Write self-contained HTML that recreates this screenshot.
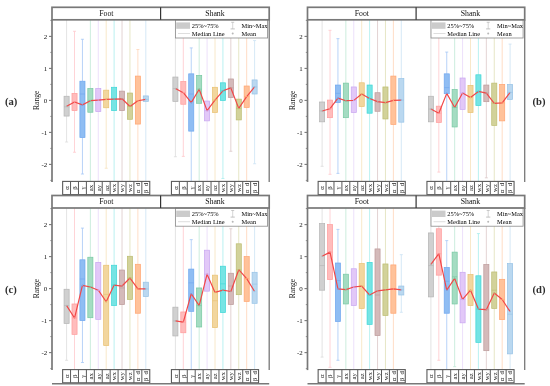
<!DOCTYPE html>
<html><head><meta charset="utf-8"><title>Range box plots</title>
<style>html,body{margin:0;padding:0;background:#fff;}svg{display:block;}</style>
</head><body>
<svg width="550" height="386" viewBox="0 0 550 386">
<rect width="550" height="386" fill="#fff"/>
<g transform="translate(0,0)">
<clipPath id="clipa"><rect x="52" y="19.8" width="217.2" height="161.5"/></clipPath>
<g clip-path="url(#clipa)">
<line x1="66.6" y1="17.8" x2="66.6" y2="96.24" stroke="#dcdcdc" stroke-width="0.8"/>
<line x1="66.6" y1="116.08" x2="66.6" y2="142" stroke="#dcdcdc" stroke-width="0.8"/>
<line x1="65.1" y1="142" x2="68.1" y2="142" stroke="#dcdcdc" stroke-width="0.8"/>
<rect x="64.05" y="96.24" width="5.1" height="19.84" fill="#d0d0d0" stroke="#b4b4b4" stroke-width="0.7"/>
<line x1="64.05" y1="106.8" x2="69.15" y2="106.8" stroke="#b4b4b4" stroke-width="0.6"/>
<line x1="74.52" y1="31.28" x2="74.52" y2="93.36" stroke="#ffc8cc" stroke-width="0.8"/>
<line x1="74.52" y1="110.64" x2="74.52" y2="152.24" stroke="#ffc8cc" stroke-width="0.8"/>
<line x1="73.02" y1="31.28" x2="76.02" y2="31.28" stroke="#ffc8cc" stroke-width="0.8"/>
<line x1="73.02" y1="152.24" x2="76.02" y2="152.24" stroke="#ffc8cc" stroke-width="0.8"/>
<rect x="71.97" y="93.36" width="5.1" height="17.28" fill="#ffbcbc" stroke="#ff9c9c" stroke-width="0.7"/>
<line x1="71.97" y1="102" x2="77.07" y2="102" stroke="#ff9c9c" stroke-width="0.6"/>
<line x1="82.44" y1="39.28" x2="82.44" y2="81.2" stroke="#a6c8f6" stroke-width="0.8"/>
<line x1="82.44" y1="137.52" x2="82.44" y2="174" stroke="#a6c8f6" stroke-width="0.8"/>
<line x1="80.94" y1="39.28" x2="83.94" y2="39.28" stroke="#a6c8f6" stroke-width="0.8"/>
<line x1="80.94" y1="174" x2="83.94" y2="174" stroke="#a6c8f6" stroke-width="0.8"/>
<rect x="79.89" y="81.2" width="5.1" height="56.32" fill="#8fbdf3" stroke="#6ea6ee" stroke-width="0.7"/>
<line x1="79.89" y1="94" x2="84.99" y2="94" stroke="#6ea6ee" stroke-width="0.6"/>
<line x1="90.36" y1="17.8" x2="90.36" y2="88.56" stroke="#bfe8d6" stroke-width="0.8"/>
<line x1="90.36" y1="112.24" x2="90.36" y2="183.3" stroke="#bfe8d6" stroke-width="0.8"/>
<rect x="87.81" y="88.56" width="5.1" height="23.68" fill="#a4dcc2" stroke="#76c8a2" stroke-width="0.7"/>
<line x1="87.81" y1="100.4" x2="92.91" y2="100.4" stroke="#76c8a2" stroke-width="0.6"/>
<line x1="98.28" y1="17.8" x2="98.28" y2="88.56" stroke="#e8d8fa" stroke-width="0.8"/>
<line x1="98.28" y1="111.6" x2="98.28" y2="183.3" stroke="#e8d8fa" stroke-width="0.8"/>
<rect x="95.73" y="88.56" width="5.1" height="23.04" fill="#e2c8f8" stroke="#c8a6f0" stroke-width="0.7"/>
<line x1="95.73" y1="100.4" x2="100.83" y2="100.4" stroke="#c8a6f0" stroke-width="0.6"/>
<line x1="106.2" y1="17.8" x2="106.2" y2="90.16" stroke="#f6e2bc" stroke-width="0.8"/>
<line x1="106.2" y1="107.76" x2="106.2" y2="168.24" stroke="#f6e2bc" stroke-width="0.8"/>
<line x1="104.7" y1="168.24" x2="107.7" y2="168.24" stroke="#f6e2bc" stroke-width="0.8"/>
<rect x="103.65" y="90.16" width="5.1" height="17.6" fill="#f2d69e" stroke="#e8c070" stroke-width="0.7"/>
<line x1="103.65" y1="99.44" x2="108.75" y2="99.44" stroke="#e8c070" stroke-width="0.6"/>
<line x1="114.12" y1="17.8" x2="114.12" y2="87.28" stroke="#a8eeee" stroke-width="0.8"/>
<line x1="114.12" y1="110.64" x2="114.12" y2="183.3" stroke="#a8eeee" stroke-width="0.8"/>
<rect x="111.57" y="87.28" width="5.1" height="23.36" fill="#76e4e4" stroke="#3cd6d6" stroke-width="0.7"/>
<line x1="111.57" y1="99.12" x2="116.67" y2="99.12" stroke="#3cd6d6" stroke-width="0.6"/>
<line x1="122.04" y1="17.8" x2="122.04" y2="91.12" stroke="#dcc8c8" stroke-width="0.8"/>
<line x1="122.04" y1="110.64" x2="122.04" y2="183.3" stroke="#dcc8c8" stroke-width="0.8"/>
<rect x="119.49" y="91.12" width="5.1" height="19.52" fill="#d4baba" stroke="#bc9a9a" stroke-width="0.7"/>
<line x1="119.49" y1="98.8" x2="124.59" y2="98.8" stroke="#bc9a9a" stroke-width="0.6"/>
<line x1="129.96" y1="17.8" x2="129.96" y2="93.04" stroke="#e0e0b8" stroke-width="0.8"/>
<line x1="129.96" y1="119.28" x2="129.96" y2="183.3" stroke="#e0e0b8" stroke-width="0.8"/>
<rect x="127.41" y="93.04" width="5.1" height="26.24" fill="#d2d29a" stroke="#bcbc70" stroke-width="0.7"/>
<line x1="127.41" y1="106.48" x2="132.51" y2="106.48" stroke="#bcbc70" stroke-width="0.6"/>
<line x1="137.88" y1="49.52" x2="137.88" y2="76.08" stroke="#ffd4b8" stroke-width="0.8"/>
<line x1="137.88" y1="124.08" x2="137.88" y2="183.3" stroke="#ffd4b8" stroke-width="0.8"/>
<line x1="136.38" y1="49.52" x2="139.38" y2="49.52" stroke="#ffd4b8" stroke-width="0.8"/>
<rect x="135.33" y="76.08" width="5.1" height="48" fill="#ffc29a" stroke="#ffa470" stroke-width="0.7"/>
<line x1="135.33" y1="100.72" x2="140.43" y2="100.72" stroke="#ffa470" stroke-width="0.6"/>
<line x1="145.8" y1="17.8" x2="145.8" y2="95.92" stroke="#cce2f4" stroke-width="0.8"/>
<line x1="145.8" y1="101.36" x2="145.8" y2="183.3" stroke="#cce2f4" stroke-width="0.8"/>
<rect x="143.25" y="95.92" width="5.1" height="5.44" fill="#bad8f0" stroke="#96c2e6" stroke-width="0.7"/>
<line x1="143.25" y1="99.44" x2="148.35" y2="99.44" stroke="#96c2e6" stroke-width="0.6"/>
<polyline points="66.6,106.16 74.52,102 82.44,104.88 90.36,100.72 98.28,100.08 106.2,99.44 114.12,99.12 122.04,98.8 129.96,106.48 137.88,100.72 145.8,99.44" fill="none" stroke="#f24848" stroke-width="1.2" stroke-linejoin="round"/>
<circle cx="66.6" cy="106.16" r="0.75" fill="#b4b4b4"/>
<circle cx="74.52" cy="102" r="0.75" fill="#ff9c9c"/>
<circle cx="82.44" cy="104.88" r="0.75" fill="#6ea6ee"/>
<circle cx="90.36" cy="100.72" r="0.75" fill="#76c8a2"/>
<circle cx="98.28" cy="100.08" r="0.75" fill="#c8a6f0"/>
<circle cx="106.2" cy="99.44" r="0.75" fill="#e8c070"/>
<circle cx="114.12" cy="99.12" r="0.75" fill="#3cd6d6"/>
<circle cx="122.04" cy="98.8" r="0.75" fill="#bc9a9a"/>
<circle cx="129.96" cy="106.48" r="0.75" fill="#bcbc70"/>
<circle cx="137.88" cy="100.72" r="0.75" fill="#ffa470"/>
<circle cx="145.8" cy="99.44" r="0.75" fill="#96c2e6"/>
<line x1="175.4" y1="17.8" x2="175.4" y2="77.04" stroke="#dcdcdc" stroke-width="0.8"/>
<line x1="175.4" y1="101.36" x2="175.4" y2="156.72" stroke="#dcdcdc" stroke-width="0.8"/>
<line x1="173.9" y1="156.72" x2="176.9" y2="156.72" stroke="#dcdcdc" stroke-width="0.8"/>
<rect x="172.85" y="77.04" width="5.1" height="24.32" fill="#d0d0d0" stroke="#b4b4b4" stroke-width="0.7"/>
<line x1="172.85" y1="88.56" x2="177.95" y2="88.56" stroke="#b4b4b4" stroke-width="0.6"/>
<line x1="183.32" y1="17.8" x2="183.32" y2="81.52" stroke="#ffc8cc" stroke-width="0.8"/>
<line x1="183.32" y1="104.24" x2="183.32" y2="156.4" stroke="#ffc8cc" stroke-width="0.8"/>
<line x1="181.82" y1="156.4" x2="184.82" y2="156.4" stroke="#ffc8cc" stroke-width="0.8"/>
<rect x="180.77" y="81.52" width="5.1" height="22.72" fill="#ffbcbc" stroke="#ff9c9c" stroke-width="0.7"/>
<line x1="180.77" y1="92.72" x2="185.87" y2="92.72" stroke="#ff9c9c" stroke-width="0.6"/>
<line x1="191.24" y1="47.92" x2="191.24" y2="73.84" stroke="#a6c8f6" stroke-width="0.8"/>
<line x1="191.24" y1="131.12" x2="191.24" y2="183.3" stroke="#a6c8f6" stroke-width="0.8"/>
<line x1="189.74" y1="47.92" x2="192.74" y2="47.92" stroke="#a6c8f6" stroke-width="0.8"/>
<rect x="188.69" y="73.84" width="5.1" height="57.28" fill="#8fbdf3" stroke="#6ea6ee" stroke-width="0.7"/>
<line x1="188.69" y1="94" x2="193.79" y2="94" stroke="#6ea6ee" stroke-width="0.6"/>
<line x1="199.16" y1="17.8" x2="199.16" y2="75.44" stroke="#bfe8d6" stroke-width="0.8"/>
<line x1="199.16" y1="103.28" x2="199.16" y2="183.3" stroke="#bfe8d6" stroke-width="0.8"/>
<rect x="196.61" y="75.44" width="5.1" height="27.84" fill="#a4dcc2" stroke="#76c8a2" stroke-width="0.7"/>
<line x1="196.61" y1="89.2" x2="201.71" y2="89.2" stroke="#76c8a2" stroke-width="0.6"/>
<line x1="207.08" y1="17.8" x2="207.08" y2="101.04" stroke="#e8d8fa" stroke-width="0.8"/>
<line x1="207.08" y1="120.88" x2="207.08" y2="183.3" stroke="#e8d8fa" stroke-width="0.8"/>
<rect x="204.53" y="101.04" width="5.1" height="19.84" fill="#e2c8f8" stroke="#c8a6f0" stroke-width="0.7"/>
<line x1="204.53" y1="110.64" x2="209.63" y2="110.64" stroke="#c8a6f0" stroke-width="0.6"/>
<line x1="215" y1="17.8" x2="215" y2="87.28" stroke="#f6e2bc" stroke-width="0.8"/>
<line x1="215" y1="112.56" x2="215" y2="183.3" stroke="#f6e2bc" stroke-width="0.8"/>
<rect x="212.45" y="87.28" width="5.1" height="25.28" fill="#f2d69e" stroke="#e8c070" stroke-width="0.7"/>
<line x1="212.45" y1="100.08" x2="217.55" y2="100.08" stroke="#e8c070" stroke-width="0.6"/>
<line x1="222.92" y1="17.8" x2="222.92" y2="82.8" stroke="#a8eeee" stroke-width="0.8"/>
<line x1="222.92" y1="100.4" x2="222.92" y2="178.48" stroke="#a8eeee" stroke-width="0.8"/>
<line x1="221.42" y1="178.48" x2="224.42" y2="178.48" stroke="#a8eeee" stroke-width="0.8"/>
<rect x="220.37" y="82.8" width="5.1" height="17.6" fill="#76e4e4" stroke="#3cd6d6" stroke-width="0.7"/>
<line x1="220.37" y1="90.8" x2="225.47" y2="90.8" stroke="#3cd6d6" stroke-width="0.6"/>
<line x1="230.84" y1="17.8" x2="230.84" y2="78.96" stroke="#dcc8c8" stroke-width="0.8"/>
<line x1="230.84" y1="97.52" x2="230.84" y2="151.28" stroke="#dcc8c8" stroke-width="0.8"/>
<line x1="229.34" y1="151.28" x2="232.34" y2="151.28" stroke="#dcc8c8" stroke-width="0.8"/>
<rect x="228.29" y="78.96" width="5.1" height="18.56" fill="#d4baba" stroke="#bc9a9a" stroke-width="0.7"/>
<line x1="228.29" y1="87.92" x2="233.39" y2="87.92" stroke="#bc9a9a" stroke-width="0.6"/>
<line x1="238.76" y1="17.8" x2="238.76" y2="99.12" stroke="#e0e0b8" stroke-width="0.8"/>
<line x1="238.76" y1="119.92" x2="238.76" y2="183.3" stroke="#e0e0b8" stroke-width="0.8"/>
<rect x="236.21" y="99.12" width="5.1" height="20.8" fill="#d2d29a" stroke="#bcbc70" stroke-width="0.7"/>
<line x1="236.21" y1="108.4" x2="241.31" y2="108.4" stroke="#bcbc70" stroke-width="0.6"/>
<line x1="246.68" y1="17.8" x2="246.68" y2="86" stroke="#ffd4b8" stroke-width="0.8"/>
<line x1="246.68" y1="107.44" x2="246.68" y2="183.3" stroke="#ffd4b8" stroke-width="0.8"/>
<rect x="244.13" y="86" width="5.1" height="21.44" fill="#ffc29a" stroke="#ffa470" stroke-width="0.7"/>
<line x1="244.13" y1="96.56" x2="249.23" y2="96.56" stroke="#ffa470" stroke-width="0.6"/>
<line x1="254.6" y1="40.56" x2="254.6" y2="79.92" stroke="#cce2f4" stroke-width="0.8"/>
<line x1="254.6" y1="94" x2="254.6" y2="163.76" stroke="#cce2f4" stroke-width="0.8"/>
<line x1="253.1" y1="40.56" x2="256.1" y2="40.56" stroke="#cce2f4" stroke-width="0.8"/>
<line x1="253.1" y1="163.76" x2="256.1" y2="163.76" stroke="#cce2f4" stroke-width="0.8"/>
<rect x="252.05" y="79.92" width="5.1" height="14.08" fill="#bad8f0" stroke="#96c2e6" stroke-width="0.7"/>
<line x1="252.05" y1="86.96" x2="257.15" y2="86.96" stroke="#96c2e6" stroke-width="0.6"/>
<polyline points="175.4,88.56 183.32,92.72 191.24,102.64 199.16,89.2 207.08,110.64 215,100.08 222.92,90.8 230.84,87.92 238.76,108.4 246.68,96.56 254.6,86.96" fill="none" stroke="#f24848" stroke-width="1.2" stroke-linejoin="round"/>
<circle cx="175.4" cy="88.56" r="0.75" fill="#b4b4b4"/>
<circle cx="183.32" cy="92.72" r="0.75" fill="#ff9c9c"/>
<circle cx="191.24" cy="102.64" r="0.75" fill="#6ea6ee"/>
<circle cx="199.16" cy="89.2" r="0.75" fill="#76c8a2"/>
<circle cx="207.08" cy="110.64" r="0.75" fill="#c8a6f0"/>
<circle cx="215" cy="100.08" r="0.75" fill="#e8c070"/>
<circle cx="222.92" cy="90.8" r="0.75" fill="#3cd6d6"/>
<circle cx="230.84" cy="87.92" r="0.75" fill="#bc9a9a"/>
<circle cx="238.76" cy="108.4" r="0.75" fill="#bcbc70"/>
<circle cx="246.68" cy="96.56" r="0.75" fill="#ffa470"/>
<circle cx="254.6" cy="86.96" r="0.75" fill="#96c2e6"/>
</g>
<clipPath id="lca"><rect x="175.5" y="19.8" width="92.1" height="18.2"/></clipPath>
<rect x="175.5" y="19.8" width="92.1" height="18.2" fill="#fff" stroke="#8a8a8a" stroke-width="0.8"/>
<g clip-path="url(#lca)" font-family="'Liberation Serif', 'Times New Roman', serif" font-size="6.4" fill="#000">
<rect x="176.2" y="22.4" width="13.8" height="6.4" fill="#cbcbcb"/>
<line x1="178" y1="33.5" x2="190" y2="33.5" stroke="#c8c8c8" stroke-width="0.6"/>
<text x="191.8" y="27.9">25%~75%</text>
<text x="191.8" y="35.6">Median Line</text>
<line x1="232.7" y1="22.3" x2="232.7" y2="28.9" stroke="#c4c4c4" stroke-width="0.7"/>
<line x1="231.2" y1="22.3" x2="234.2" y2="22.3" stroke="#b4b4b4" stroke-width="0.7"/>
<line x1="230.6" y1="28.9" x2="234.8" y2="28.9" stroke="#b4b4b4" stroke-width="0.8"/>
<circle cx="232.7" cy="33.6" r="1.0" fill="#b8b8b8"/>
<text x="241.6" y="27.8">Min~Max</text>
<text x="241.6" y="35.6">Mean</text>
</g>
<rect x="52" y="7.3" width="217.2" height="12.5" fill="none" stroke="#787878" stroke-width="1.7"/>
<line x1="160.6" y1="7.3" x2="160.6" y2="19.8" stroke="#333" stroke-width="1.2"/>
<text x="106.3" y="16.1" font-family="'Liberation Serif', 'Times New Roman', serif" font-size="7.8" text-anchor="middle" fill="#111">Foot</text>
<text x="214.9" y="16.1" font-family="'Liberation Serif', 'Times New Roman', serif" font-size="7.8" text-anchor="middle" fill="#111">Shank</text>
<line x1="52" y1="19.8" x2="52" y2="181.9" stroke="#787878" stroke-width="1.7"/>
<line x1="269.2" y1="19.8" x2="269.2" y2="181.9" stroke="#787878" stroke-width="1.3"/>
<line x1="49" y1="36.4" x2="52" y2="36.4" stroke="#787878" stroke-width="1.1"/>
<text x="47.3" y="38.75" font-family="'Liberation Serif', 'Times New Roman', serif" font-size="6.9" text-anchor="end" fill="#111">2</text>
<line x1="49" y1="68.4" x2="52" y2="68.4" stroke="#787878" stroke-width="1.1"/>
<text x="47.3" y="70.75" font-family="'Liberation Serif', 'Times New Roman', serif" font-size="6.9" text-anchor="end" fill="#111">1</text>
<line x1="49" y1="100.4" x2="52" y2="100.4" stroke="#787878" stroke-width="1.1"/>
<text x="47.3" y="102.75" font-family="'Liberation Serif', 'Times New Roman', serif" font-size="6.9" text-anchor="end" fill="#111">0</text>
<line x1="49" y1="132.4" x2="52" y2="132.4" stroke="#787878" stroke-width="1.1"/>
<text x="47.3" y="134.75" font-family="'Liberation Serif', 'Times New Roman', serif" font-size="6.9" text-anchor="end" fill="#111">-1</text>
<line x1="49" y1="164.4" x2="52" y2="164.4" stroke="#787878" stroke-width="1.1"/>
<text x="47.3" y="166.75" font-family="'Liberation Serif', 'Times New Roman', serif" font-size="6.9" text-anchor="end" fill="#111">-2</text>
<line x1="50.3" y1="20.4" x2="52" y2="20.4" stroke="#787878" stroke-width="0.8"/>
<line x1="50.3" y1="52.4" x2="52" y2="52.4" stroke="#787878" stroke-width="0.8"/>
<line x1="50.3" y1="84.4" x2="52" y2="84.4" stroke="#787878" stroke-width="0.8"/>
<line x1="50.3" y1="116.4" x2="52" y2="116.4" stroke="#787878" stroke-width="0.8"/>
<line x1="50.3" y1="148.4" x2="52" y2="148.4" stroke="#787878" stroke-width="0.8"/>
<line x1="50.3" y1="180.4" x2="52" y2="180.4" stroke="#787878" stroke-width="0.8"/>
<text transform="translate(39,100.3) rotate(-90)" font-family="'Liberation Serif', 'Times New Roman', serif" font-size="7.6" text-anchor="middle" fill="#111">Range</text>
<rect x="62.64" y="181.4" width="87.12" height="13.2" fill="#fff" stroke="#5a5a5a" stroke-width="1.1"/>
<line x1="70.56" y1="181.4" x2="70.56" y2="194.6" stroke="#5a5a5a" stroke-width="1"/>
<line x1="78.48" y1="181.4" x2="78.48" y2="194.6" stroke="#5a5a5a" stroke-width="1"/>
<line x1="86.4" y1="181.4" x2="86.4" y2="194.6" stroke="#5a5a5a" stroke-width="1"/>
<line x1="94.32" y1="181.4" x2="94.32" y2="194.6" stroke="#5a5a5a" stroke-width="1"/>
<line x1="102.24" y1="181.4" x2="102.24" y2="194.6" stroke="#5a5a5a" stroke-width="1"/>
<line x1="110.16" y1="181.4" x2="110.16" y2="194.6" stroke="#5a5a5a" stroke-width="1"/>
<line x1="118.08" y1="181.4" x2="118.08" y2="194.6" stroke="#5a5a5a" stroke-width="1"/>
<line x1="126" y1="181.4" x2="126" y2="194.6" stroke="#5a5a5a" stroke-width="1"/>
<line x1="133.92" y1="181.4" x2="133.92" y2="194.6" stroke="#5a5a5a" stroke-width="1"/>
<line x1="141.84" y1="181.4" x2="141.84" y2="194.6" stroke="#5a5a5a" stroke-width="1"/>
<text transform="translate(68.9,188) rotate(-90)" font-family="'Liberation Serif', 'Times New Roman', serif" font-size="6.8" text-anchor="middle" fill="#1a1a1a">α</text>
<text transform="translate(76.82,188) rotate(-90)" font-family="'Liberation Serif', 'Times New Roman', serif" font-size="6.8" text-anchor="middle" fill="#1a1a1a">β</text>
<text transform="translate(84.74,188) rotate(-90)" font-family="'Liberation Serif', 'Times New Roman', serif" font-size="6.8" text-anchor="middle" fill="#1a1a1a">γ</text>
<text transform="translate(92.66,188) rotate(-90)" font-family="'Liberation Serif', 'Times New Roman', serif" font-size="6.8" text-anchor="middle" fill="#1a1a1a">ax</text>
<text transform="translate(100.58,188) rotate(-90)" font-family="'Liberation Serif', 'Times New Roman', serif" font-size="6.8" text-anchor="middle" fill="#1a1a1a">ay</text>
<text transform="translate(108.5,188) rotate(-90)" font-family="'Liberation Serif', 'Times New Roman', serif" font-size="6.8" text-anchor="middle" fill="#1a1a1a">az</text>
<text transform="translate(116.42,188) rotate(-90)" font-family="'Liberation Serif', 'Times New Roman', serif" font-size="6.8" text-anchor="middle" fill="#1a1a1a">wx</text>
<text transform="translate(124.34,188) rotate(-90)" font-family="'Liberation Serif', 'Times New Roman', serif" font-size="6.8" text-anchor="middle" fill="#1a1a1a">wy</text>
<text transform="translate(132.26,188) rotate(-90)" font-family="'Liberation Serif', 'Times New Roman', serif" font-size="6.8" text-anchor="middle" fill="#1a1a1a">wz</text>
<text transform="translate(140.18,188) rotate(-90)" font-family="'Liberation Serif', 'Times New Roman', serif" font-size="6.8" text-anchor="middle" fill="#1a1a1a">α d</text>
<text transform="translate(148.1,188) rotate(-90)" font-family="'Liberation Serif', 'Times New Roman', serif" font-size="6.8" text-anchor="middle" fill="#1a1a1a">β d</text>
<rect x="171.44" y="181.4" width="87.12" height="13.2" fill="#fff" stroke="#5a5a5a" stroke-width="1.1"/>
<line x1="179.36" y1="181.4" x2="179.36" y2="194.6" stroke="#5a5a5a" stroke-width="1"/>
<line x1="187.28" y1="181.4" x2="187.28" y2="194.6" stroke="#5a5a5a" stroke-width="1"/>
<line x1="195.2" y1="181.4" x2="195.2" y2="194.6" stroke="#5a5a5a" stroke-width="1"/>
<line x1="203.12" y1="181.4" x2="203.12" y2="194.6" stroke="#5a5a5a" stroke-width="1"/>
<line x1="211.04" y1="181.4" x2="211.04" y2="194.6" stroke="#5a5a5a" stroke-width="1"/>
<line x1="218.96" y1="181.4" x2="218.96" y2="194.6" stroke="#5a5a5a" stroke-width="1"/>
<line x1="226.88" y1="181.4" x2="226.88" y2="194.6" stroke="#5a5a5a" stroke-width="1"/>
<line x1="234.8" y1="181.4" x2="234.8" y2="194.6" stroke="#5a5a5a" stroke-width="1"/>
<line x1="242.72" y1="181.4" x2="242.72" y2="194.6" stroke="#5a5a5a" stroke-width="1"/>
<line x1="250.64" y1="181.4" x2="250.64" y2="194.6" stroke="#5a5a5a" stroke-width="1"/>
<text transform="translate(177.7,188) rotate(-90)" font-family="'Liberation Serif', 'Times New Roman', serif" font-size="6.8" text-anchor="middle" fill="#1a1a1a">α</text>
<text transform="translate(185.62,188) rotate(-90)" font-family="'Liberation Serif', 'Times New Roman', serif" font-size="6.8" text-anchor="middle" fill="#1a1a1a">β</text>
<text transform="translate(193.54,188) rotate(-90)" font-family="'Liberation Serif', 'Times New Roman', serif" font-size="6.8" text-anchor="middle" fill="#1a1a1a">γ</text>
<text transform="translate(201.46,188) rotate(-90)" font-family="'Liberation Serif', 'Times New Roman', serif" font-size="6.8" text-anchor="middle" fill="#1a1a1a">ax</text>
<text transform="translate(209.38,188) rotate(-90)" font-family="'Liberation Serif', 'Times New Roman', serif" font-size="6.8" text-anchor="middle" fill="#1a1a1a">ay</text>
<text transform="translate(217.3,188) rotate(-90)" font-family="'Liberation Serif', 'Times New Roman', serif" font-size="6.8" text-anchor="middle" fill="#1a1a1a">az</text>
<text transform="translate(225.22,188) rotate(-90)" font-family="'Liberation Serif', 'Times New Roman', serif" font-size="6.8" text-anchor="middle" fill="#1a1a1a">wx</text>
<text transform="translate(233.14,188) rotate(-90)" font-family="'Liberation Serif', 'Times New Roman', serif" font-size="6.8" text-anchor="middle" fill="#1a1a1a">wy</text>
<text transform="translate(241.06,188) rotate(-90)" font-family="'Liberation Serif', 'Times New Roman', serif" font-size="6.8" text-anchor="middle" fill="#1a1a1a">wz</text>
<text transform="translate(248.98,188) rotate(-90)" font-family="'Liberation Serif', 'Times New Roman', serif" font-size="6.8" text-anchor="middle" fill="#1a1a1a">α d</text>
<text transform="translate(256.9,188) rotate(-90)" font-family="'Liberation Serif', 'Times New Roman', serif" font-size="6.8" text-anchor="middle" fill="#1a1a1a">β d</text>
</g>
<g transform="translate(255.5,0)">
<clipPath id="clipb"><rect x="52" y="19.8" width="217.2" height="161.5"/></clipPath>
<g clip-path="url(#clipb)">
<line x1="66.6" y1="17.8" x2="66.6" y2="102" stroke="#dcdcdc" stroke-width="0.8"/>
<line x1="66.6" y1="121.84" x2="66.6" y2="166.32" stroke="#dcdcdc" stroke-width="0.8"/>
<line x1="65.1" y1="166.32" x2="68.1" y2="166.32" stroke="#dcdcdc" stroke-width="0.8"/>
<rect x="64.05" y="102" width="5.1" height="19.84" fill="#d0d0d0" stroke="#b4b4b4" stroke-width="0.7"/>
<line x1="64.05" y1="110.96" x2="69.15" y2="110.96" stroke="#b4b4b4" stroke-width="0.6"/>
<line x1="74.52" y1="30.32" x2="74.52" y2="100.08" stroke="#ffc8cc" stroke-width="0.8"/>
<line x1="74.52" y1="117.68" x2="74.52" y2="174.32" stroke="#ffc8cc" stroke-width="0.8"/>
<line x1="73.02" y1="30.32" x2="76.02" y2="30.32" stroke="#ffc8cc" stroke-width="0.8"/>
<line x1="73.02" y1="174.32" x2="76.02" y2="174.32" stroke="#ffc8cc" stroke-width="0.8"/>
<rect x="71.97" y="100.08" width="5.1" height="17.6" fill="#ffbcbc" stroke="#ff9c9c" stroke-width="0.7"/>
<line x1="71.97" y1="108.72" x2="77.07" y2="108.72" stroke="#ff9c9c" stroke-width="0.6"/>
<line x1="82.44" y1="38.64" x2="82.44" y2="85.04" stroke="#a6c8f6" stroke-width="0.8"/>
<line x1="82.44" y1="102.64" x2="82.44" y2="173.36" stroke="#a6c8f6" stroke-width="0.8"/>
<line x1="80.94" y1="38.64" x2="83.94" y2="38.64" stroke="#a6c8f6" stroke-width="0.8"/>
<line x1="80.94" y1="173.36" x2="83.94" y2="173.36" stroke="#a6c8f6" stroke-width="0.8"/>
<rect x="79.89" y="85.04" width="5.1" height="17.6" fill="#8fbdf3" stroke="#6ea6ee" stroke-width="0.7"/>
<line x1="79.89" y1="93.36" x2="84.99" y2="93.36" stroke="#6ea6ee" stroke-width="0.6"/>
<line x1="90.36" y1="17.8" x2="90.36" y2="83.12" stroke="#bfe8d6" stroke-width="0.8"/>
<line x1="90.36" y1="117.68" x2="90.36" y2="183.3" stroke="#bfe8d6" stroke-width="0.8"/>
<rect x="87.81" y="83.12" width="5.1" height="34.56" fill="#a4dcc2" stroke="#76c8a2" stroke-width="0.7"/>
<line x1="87.81" y1="100.72" x2="92.91" y2="100.72" stroke="#76c8a2" stroke-width="0.6"/>
<line x1="98.28" y1="17.8" x2="98.28" y2="86.96" stroke="#e8d8fa" stroke-width="0.8"/>
<line x1="98.28" y1="112.56" x2="98.28" y2="183.3" stroke="#e8d8fa" stroke-width="0.8"/>
<rect x="95.73" y="86.96" width="5.1" height="25.6" fill="#e2c8f8" stroke="#c8a6f0" stroke-width="0.7"/>
<line x1="95.73" y1="100.4" x2="100.83" y2="100.4" stroke="#c8a6f0" stroke-width="0.6"/>
<line x1="106.2" y1="17.8" x2="106.2" y2="82.8" stroke="#f6e2bc" stroke-width="0.8"/>
<line x1="106.2" y1="106.48" x2="106.2" y2="183.3" stroke="#f6e2bc" stroke-width="0.8"/>
<rect x="103.65" y="82.8" width="5.1" height="23.68" fill="#f2d69e" stroke="#e8c070" stroke-width="0.7"/>
<line x1="103.65" y1="94" x2="108.75" y2="94" stroke="#e8c070" stroke-width="0.6"/>
<line x1="114.12" y1="17.8" x2="114.12" y2="85.04" stroke="#a8eeee" stroke-width="0.8"/>
<line x1="114.12" y1="113.2" x2="114.12" y2="183.3" stroke="#a8eeee" stroke-width="0.8"/>
<rect x="111.57" y="85.04" width="5.1" height="28.16" fill="#76e4e4" stroke="#3cd6d6" stroke-width="0.7"/>
<line x1="111.57" y1="98.48" x2="116.67" y2="98.48" stroke="#3cd6d6" stroke-width="0.6"/>
<line x1="122.04" y1="17.8" x2="122.04" y2="92.72" stroke="#dcc8c8" stroke-width="0.8"/>
<line x1="122.04" y1="111.28" x2="122.04" y2="183.3" stroke="#dcc8c8" stroke-width="0.8"/>
<rect x="119.49" y="92.72" width="5.1" height="18.56" fill="#d4baba" stroke="#bc9a9a" stroke-width="0.7"/>
<line x1="119.49" y1="101.68" x2="124.59" y2="101.68" stroke="#bc9a9a" stroke-width="0.6"/>
<line x1="129.96" y1="17.8" x2="129.96" y2="86.96" stroke="#e0e0b8" stroke-width="0.8"/>
<line x1="129.96" y1="118.96" x2="129.96" y2="183.3" stroke="#e0e0b8" stroke-width="0.8"/>
<rect x="127.41" y="86.96" width="5.1" height="32" fill="#d2d29a" stroke="#bcbc70" stroke-width="0.7"/>
<line x1="127.41" y1="102.64" x2="132.51" y2="102.64" stroke="#bcbc70" stroke-width="0.6"/>
<line x1="137.88" y1="17.8" x2="137.88" y2="76.08" stroke="#ffd4b8" stroke-width="0.8"/>
<line x1="137.88" y1="124.4" x2="137.88" y2="183.3" stroke="#ffd4b8" stroke-width="0.8"/>
<rect x="135.33" y="76.08" width="5.1" height="48.32" fill="#ffc29a" stroke="#ffa470" stroke-width="0.7"/>
<line x1="135.33" y1="100.4" x2="140.43" y2="100.4" stroke="#ffa470" stroke-width="0.6"/>
<line x1="145.8" y1="17.8" x2="145.8" y2="78.64" stroke="#cce2f4" stroke-width="0.8"/>
<line x1="145.8" y1="122.16" x2="145.8" y2="183.3" stroke="#cce2f4" stroke-width="0.8"/>
<rect x="143.25" y="78.64" width="5.1" height="43.52" fill="#bad8f0" stroke="#96c2e6" stroke-width="0.7"/>
<line x1="143.25" y1="100.08" x2="148.35" y2="100.08" stroke="#96c2e6" stroke-width="0.6"/>
<polyline points="66.6,110.96 74.52,108.72 82.44,98.16 90.36,100.72 98.28,100.4 106.2,94 114.12,98.48 122.04,101.68 129.96,102.64 137.88,100.4 145.8,100.08" fill="none" stroke="#f24848" stroke-width="1.2" stroke-linejoin="round"/>
<circle cx="66.6" cy="110.96" r="0.75" fill="#b4b4b4"/>
<circle cx="74.52" cy="108.72" r="0.75" fill="#ff9c9c"/>
<circle cx="82.44" cy="98.16" r="0.75" fill="#6ea6ee"/>
<circle cx="90.36" cy="100.72" r="0.75" fill="#76c8a2"/>
<circle cx="98.28" cy="100.4" r="0.75" fill="#c8a6f0"/>
<circle cx="106.2" cy="94" r="0.75" fill="#e8c070"/>
<circle cx="114.12" cy="98.48" r="0.75" fill="#3cd6d6"/>
<circle cx="122.04" cy="101.68" r="0.75" fill="#bc9a9a"/>
<circle cx="129.96" cy="102.64" r="0.75" fill="#bcbc70"/>
<circle cx="137.88" cy="100.4" r="0.75" fill="#ffa470"/>
<circle cx="145.8" cy="100.08" r="0.75" fill="#96c2e6"/>
<line x1="175.4" y1="17.8" x2="175.4" y2="96.24" stroke="#dcdcdc" stroke-width="0.8"/>
<line x1="175.4" y1="121.84" x2="175.4" y2="183.3" stroke="#dcdcdc" stroke-width="0.8"/>
<rect x="172.85" y="96.24" width="5.1" height="25.6" fill="#d0d0d0" stroke="#b4b4b4" stroke-width="0.7"/>
<line x1="172.85" y1="109.04" x2="177.95" y2="109.04" stroke="#b4b4b4" stroke-width="0.6"/>
<line x1="183.32" y1="17.8" x2="183.32" y2="106.16" stroke="#ffc8cc" stroke-width="0.8"/>
<line x1="183.32" y1="122.48" x2="183.32" y2="172.08" stroke="#ffc8cc" stroke-width="0.8"/>
<line x1="181.82" y1="172.08" x2="184.82" y2="172.08" stroke="#ffc8cc" stroke-width="0.8"/>
<rect x="180.77" y="106.16" width="5.1" height="16.32" fill="#ffbcbc" stroke="#ff9c9c" stroke-width="0.7"/>
<line x1="180.77" y1="113.2" x2="185.87" y2="113.2" stroke="#ff9c9c" stroke-width="0.6"/>
<line x1="191.24" y1="52.08" x2="191.24" y2="73.84" stroke="#a6c8f6" stroke-width="0.8"/>
<line x1="191.24" y1="93.68" x2="191.24" y2="183.3" stroke="#a6c8f6" stroke-width="0.8"/>
<line x1="189.74" y1="52.08" x2="192.74" y2="52.08" stroke="#a6c8f6" stroke-width="0.8"/>
<rect x="188.69" y="73.84" width="5.1" height="19.84" fill="#8fbdf3" stroke="#6ea6ee" stroke-width="0.7"/>
<line x1="188.69" y1="87.6" x2="193.79" y2="87.6" stroke="#6ea6ee" stroke-width="0.6"/>
<line x1="199.16" y1="17.8" x2="199.16" y2="89.52" stroke="#bfe8d6" stroke-width="0.8"/>
<line x1="199.16" y1="126.96" x2="199.16" y2="183.3" stroke="#bfe8d6" stroke-width="0.8"/>
<rect x="196.61" y="89.52" width="5.1" height="37.44" fill="#a4dcc2" stroke="#76c8a2" stroke-width="0.7"/>
<line x1="196.61" y1="107.44" x2="201.71" y2="107.44" stroke="#76c8a2" stroke-width="0.6"/>
<line x1="207.08" y1="17.8" x2="207.08" y2="78" stroke="#e8d8fa" stroke-width="0.8"/>
<line x1="207.08" y1="109.36" x2="207.08" y2="183.3" stroke="#e8d8fa" stroke-width="0.8"/>
<rect x="204.53" y="78" width="5.1" height="31.36" fill="#e2c8f8" stroke="#c8a6f0" stroke-width="0.7"/>
<line x1="204.53" y1="93.04" x2="209.63" y2="93.04" stroke="#c8a6f0" stroke-width="0.6"/>
<line x1="215" y1="17.8" x2="215" y2="85.36" stroke="#f6e2bc" stroke-width="0.8"/>
<line x1="215" y1="112.56" x2="215" y2="183.3" stroke="#f6e2bc" stroke-width="0.8"/>
<rect x="212.45" y="85.36" width="5.1" height="27.2" fill="#f2d69e" stroke="#e8c070" stroke-width="0.7"/>
<line x1="212.45" y1="97.52" x2="217.55" y2="97.52" stroke="#e8c070" stroke-width="0.6"/>
<line x1="222.92" y1="17.8" x2="222.92" y2="74.8" stroke="#a8eeee" stroke-width="0.8"/>
<line x1="222.92" y1="105.52" x2="222.92" y2="183.3" stroke="#a8eeee" stroke-width="0.8"/>
<rect x="220.37" y="74.8" width="5.1" height="30.72" fill="#76e4e4" stroke="#3cd6d6" stroke-width="0.7"/>
<line x1="220.37" y1="91.44" x2="225.47" y2="91.44" stroke="#3cd6d6" stroke-width="0.6"/>
<line x1="230.84" y1="17.8" x2="230.84" y2="85.04" stroke="#dcc8c8" stroke-width="0.8"/>
<line x1="230.84" y1="101.68" x2="230.84" y2="177.84" stroke="#dcc8c8" stroke-width="0.8"/>
<line x1="229.34" y1="177.84" x2="232.34" y2="177.84" stroke="#dcc8c8" stroke-width="0.8"/>
<rect x="228.29" y="85.04" width="5.1" height="16.64" fill="#d4baba" stroke="#bc9a9a" stroke-width="0.7"/>
<line x1="228.29" y1="93.04" x2="233.39" y2="93.04" stroke="#bc9a9a" stroke-width="0.6"/>
<line x1="238.76" y1="17.8" x2="238.76" y2="83.12" stroke="#e0e0b8" stroke-width="0.8"/>
<line x1="238.76" y1="125.36" x2="238.76" y2="183.3" stroke="#e0e0b8" stroke-width="0.8"/>
<rect x="236.21" y="83.12" width="5.1" height="42.24" fill="#d2d29a" stroke="#bcbc70" stroke-width="0.7"/>
<line x1="236.21" y1="103.28" x2="241.31" y2="103.28" stroke="#bcbc70" stroke-width="0.6"/>
<line x1="246.68" y1="17.8" x2="246.68" y2="84.4" stroke="#ffd4b8" stroke-width="0.8"/>
<line x1="246.68" y1="120.88" x2="246.68" y2="183.3" stroke="#ffd4b8" stroke-width="0.8"/>
<rect x="244.13" y="84.4" width="5.1" height="36.48" fill="#ffc29a" stroke="#ffa470" stroke-width="0.7"/>
<line x1="244.13" y1="102.96" x2="249.23" y2="102.96" stroke="#ffa470" stroke-width="0.6"/>
<line x1="254.6" y1="44.08" x2="254.6" y2="84.4" stroke="#cce2f4" stroke-width="0.8"/>
<line x1="254.6" y1="99.44" x2="254.6" y2="183.3" stroke="#cce2f4" stroke-width="0.8"/>
<line x1="253.1" y1="44.08" x2="256.1" y2="44.08" stroke="#cce2f4" stroke-width="0.8"/>
<rect x="252.05" y="84.4" width="5.1" height="15.04" fill="#bad8f0" stroke="#96c2e6" stroke-width="0.7"/>
<line x1="252.05" y1="92.4" x2="257.15" y2="92.4" stroke="#96c2e6" stroke-width="0.6"/>
<polyline points="175.4,109.04 183.32,113.2 191.24,93.36 199.16,107.44 207.08,93.04 215,97.52 222.92,91.44 230.84,93.04 238.76,103.28 246.68,102.96 254.6,92.4" fill="none" stroke="#f24848" stroke-width="1.2" stroke-linejoin="round"/>
<circle cx="175.4" cy="109.04" r="0.75" fill="#b4b4b4"/>
<circle cx="183.32" cy="113.2" r="0.75" fill="#ff9c9c"/>
<circle cx="191.24" cy="93.36" r="0.75" fill="#6ea6ee"/>
<circle cx="199.16" cy="107.44" r="0.75" fill="#76c8a2"/>
<circle cx="207.08" cy="93.04" r="0.75" fill="#c8a6f0"/>
<circle cx="215" cy="97.52" r="0.75" fill="#e8c070"/>
<circle cx="222.92" cy="91.44" r="0.75" fill="#3cd6d6"/>
<circle cx="230.84" cy="93.04" r="0.75" fill="#bc9a9a"/>
<circle cx="238.76" cy="103.28" r="0.75" fill="#bcbc70"/>
<circle cx="246.68" cy="102.96" r="0.75" fill="#ffa470"/>
<circle cx="254.6" cy="92.4" r="0.75" fill="#96c2e6"/>
</g>
<clipPath id="lcb"><rect x="175.5" y="19.8" width="92.1" height="18.2"/></clipPath>
<rect x="175.5" y="19.8" width="92.1" height="18.2" fill="#fff" stroke="#8a8a8a" stroke-width="0.8"/>
<g clip-path="url(#lcb)" font-family="'Liberation Serif', 'Times New Roman', serif" font-size="6.4" fill="#000">
<rect x="176.2" y="22.4" width="13.8" height="6.4" fill="#cbcbcb"/>
<line x1="178" y1="33.5" x2="190" y2="33.5" stroke="#c8c8c8" stroke-width="0.6"/>
<text x="191.8" y="27.9">25%~75%</text>
<text x="191.8" y="35.6">Median Line</text>
<line x1="232.7" y1="22.3" x2="232.7" y2="28.9" stroke="#c4c4c4" stroke-width="0.7"/>
<line x1="231.2" y1="22.3" x2="234.2" y2="22.3" stroke="#b4b4b4" stroke-width="0.7"/>
<line x1="230.6" y1="28.9" x2="234.8" y2="28.9" stroke="#b4b4b4" stroke-width="0.8"/>
<circle cx="232.7" cy="33.6" r="1.0" fill="#b8b8b8"/>
<text x="241.6" y="27.8">Min~Max</text>
<text x="241.6" y="35.6">Mean</text>
</g>
<rect x="52" y="7.3" width="217.2" height="12.5" fill="none" stroke="#787878" stroke-width="1.7"/>
<line x1="160.6" y1="7.3" x2="160.6" y2="19.8" stroke="#333" stroke-width="1.2"/>
<text x="106.3" y="16.1" font-family="'Liberation Serif', 'Times New Roman', serif" font-size="7.8" text-anchor="middle" fill="#111">Foot</text>
<text x="214.9" y="16.1" font-family="'Liberation Serif', 'Times New Roman', serif" font-size="7.8" text-anchor="middle" fill="#111">Shank</text>
<line x1="52" y1="19.8" x2="52" y2="181.9" stroke="#787878" stroke-width="1.7"/>
<line x1="269.2" y1="19.8" x2="269.2" y2="181.9" stroke="#787878" stroke-width="1.3"/>
<line x1="49" y1="36.4" x2="52" y2="36.4" stroke="#787878" stroke-width="1.1"/>
<text x="47.3" y="38.75" font-family="'Liberation Serif', 'Times New Roman', serif" font-size="6.9" text-anchor="end" fill="#111">2</text>
<line x1="49" y1="68.4" x2="52" y2="68.4" stroke="#787878" stroke-width="1.1"/>
<text x="47.3" y="70.75" font-family="'Liberation Serif', 'Times New Roman', serif" font-size="6.9" text-anchor="end" fill="#111">1</text>
<line x1="49" y1="100.4" x2="52" y2="100.4" stroke="#787878" stroke-width="1.1"/>
<text x="47.3" y="102.75" font-family="'Liberation Serif', 'Times New Roman', serif" font-size="6.9" text-anchor="end" fill="#111">0</text>
<line x1="49" y1="132.4" x2="52" y2="132.4" stroke="#787878" stroke-width="1.1"/>
<text x="47.3" y="134.75" font-family="'Liberation Serif', 'Times New Roman', serif" font-size="6.9" text-anchor="end" fill="#111">-1</text>
<line x1="49" y1="164.4" x2="52" y2="164.4" stroke="#787878" stroke-width="1.1"/>
<text x="47.3" y="166.75" font-family="'Liberation Serif', 'Times New Roman', serif" font-size="6.9" text-anchor="end" fill="#111">-2</text>
<line x1="50.3" y1="20.4" x2="52" y2="20.4" stroke="#787878" stroke-width="0.8"/>
<line x1="50.3" y1="52.4" x2="52" y2="52.4" stroke="#787878" stroke-width="0.8"/>
<line x1="50.3" y1="84.4" x2="52" y2="84.4" stroke="#787878" stroke-width="0.8"/>
<line x1="50.3" y1="116.4" x2="52" y2="116.4" stroke="#787878" stroke-width="0.8"/>
<line x1="50.3" y1="148.4" x2="52" y2="148.4" stroke="#787878" stroke-width="0.8"/>
<line x1="50.3" y1="180.4" x2="52" y2="180.4" stroke="#787878" stroke-width="0.8"/>
<text transform="translate(39,100.3) rotate(-90)" font-family="'Liberation Serif', 'Times New Roman', serif" font-size="7.6" text-anchor="middle" fill="#111">Range</text>
<rect x="62.64" y="181.4" width="87.12" height="13.2" fill="#fff" stroke="#5a5a5a" stroke-width="1.1"/>
<line x1="70.56" y1="181.4" x2="70.56" y2="194.6" stroke="#5a5a5a" stroke-width="1"/>
<line x1="78.48" y1="181.4" x2="78.48" y2="194.6" stroke="#5a5a5a" stroke-width="1"/>
<line x1="86.4" y1="181.4" x2="86.4" y2="194.6" stroke="#5a5a5a" stroke-width="1"/>
<line x1="94.32" y1="181.4" x2="94.32" y2="194.6" stroke="#5a5a5a" stroke-width="1"/>
<line x1="102.24" y1="181.4" x2="102.24" y2="194.6" stroke="#5a5a5a" stroke-width="1"/>
<line x1="110.16" y1="181.4" x2="110.16" y2="194.6" stroke="#5a5a5a" stroke-width="1"/>
<line x1="118.08" y1="181.4" x2="118.08" y2="194.6" stroke="#5a5a5a" stroke-width="1"/>
<line x1="126" y1="181.4" x2="126" y2="194.6" stroke="#5a5a5a" stroke-width="1"/>
<line x1="133.92" y1="181.4" x2="133.92" y2="194.6" stroke="#5a5a5a" stroke-width="1"/>
<line x1="141.84" y1="181.4" x2="141.84" y2="194.6" stroke="#5a5a5a" stroke-width="1"/>
<text transform="translate(68.9,188) rotate(-90)" font-family="'Liberation Serif', 'Times New Roman', serif" font-size="6.8" text-anchor="middle" fill="#1a1a1a">α</text>
<text transform="translate(76.82,188) rotate(-90)" font-family="'Liberation Serif', 'Times New Roman', serif" font-size="6.8" text-anchor="middle" fill="#1a1a1a">β</text>
<text transform="translate(84.74,188) rotate(-90)" font-family="'Liberation Serif', 'Times New Roman', serif" font-size="6.8" text-anchor="middle" fill="#1a1a1a">γ</text>
<text transform="translate(92.66,188) rotate(-90)" font-family="'Liberation Serif', 'Times New Roman', serif" font-size="6.8" text-anchor="middle" fill="#1a1a1a">ax</text>
<text transform="translate(100.58,188) rotate(-90)" font-family="'Liberation Serif', 'Times New Roman', serif" font-size="6.8" text-anchor="middle" fill="#1a1a1a">ay</text>
<text transform="translate(108.5,188) rotate(-90)" font-family="'Liberation Serif', 'Times New Roman', serif" font-size="6.8" text-anchor="middle" fill="#1a1a1a">az</text>
<text transform="translate(116.42,188) rotate(-90)" font-family="'Liberation Serif', 'Times New Roman', serif" font-size="6.8" text-anchor="middle" fill="#1a1a1a">wx</text>
<text transform="translate(124.34,188) rotate(-90)" font-family="'Liberation Serif', 'Times New Roman', serif" font-size="6.8" text-anchor="middle" fill="#1a1a1a">wy</text>
<text transform="translate(132.26,188) rotate(-90)" font-family="'Liberation Serif', 'Times New Roman', serif" font-size="6.8" text-anchor="middle" fill="#1a1a1a">wz</text>
<text transform="translate(140.18,188) rotate(-90)" font-family="'Liberation Serif', 'Times New Roman', serif" font-size="6.8" text-anchor="middle" fill="#1a1a1a">α d</text>
<text transform="translate(148.1,188) rotate(-90)" font-family="'Liberation Serif', 'Times New Roman', serif" font-size="6.8" text-anchor="middle" fill="#1a1a1a">β d</text>
<rect x="171.44" y="181.4" width="87.12" height="13.2" fill="#fff" stroke="#5a5a5a" stroke-width="1.1"/>
<line x1="179.36" y1="181.4" x2="179.36" y2="194.6" stroke="#5a5a5a" stroke-width="1"/>
<line x1="187.28" y1="181.4" x2="187.28" y2="194.6" stroke="#5a5a5a" stroke-width="1"/>
<line x1="195.2" y1="181.4" x2="195.2" y2="194.6" stroke="#5a5a5a" stroke-width="1"/>
<line x1="203.12" y1="181.4" x2="203.12" y2="194.6" stroke="#5a5a5a" stroke-width="1"/>
<line x1="211.04" y1="181.4" x2="211.04" y2="194.6" stroke="#5a5a5a" stroke-width="1"/>
<line x1="218.96" y1="181.4" x2="218.96" y2="194.6" stroke="#5a5a5a" stroke-width="1"/>
<line x1="226.88" y1="181.4" x2="226.88" y2="194.6" stroke="#5a5a5a" stroke-width="1"/>
<line x1="234.8" y1="181.4" x2="234.8" y2="194.6" stroke="#5a5a5a" stroke-width="1"/>
<line x1="242.72" y1="181.4" x2="242.72" y2="194.6" stroke="#5a5a5a" stroke-width="1"/>
<line x1="250.64" y1="181.4" x2="250.64" y2="194.6" stroke="#5a5a5a" stroke-width="1"/>
<text transform="translate(177.7,188) rotate(-90)" font-family="'Liberation Serif', 'Times New Roman', serif" font-size="6.8" text-anchor="middle" fill="#1a1a1a">α</text>
<text transform="translate(185.62,188) rotate(-90)" font-family="'Liberation Serif', 'Times New Roman', serif" font-size="6.8" text-anchor="middle" fill="#1a1a1a">β</text>
<text transform="translate(193.54,188) rotate(-90)" font-family="'Liberation Serif', 'Times New Roman', serif" font-size="6.8" text-anchor="middle" fill="#1a1a1a">γ</text>
<text transform="translate(201.46,188) rotate(-90)" font-family="'Liberation Serif', 'Times New Roman', serif" font-size="6.8" text-anchor="middle" fill="#1a1a1a">ax</text>
<text transform="translate(209.38,188) rotate(-90)" font-family="'Liberation Serif', 'Times New Roman', serif" font-size="6.8" text-anchor="middle" fill="#1a1a1a">ay</text>
<text transform="translate(217.3,188) rotate(-90)" font-family="'Liberation Serif', 'Times New Roman', serif" font-size="6.8" text-anchor="middle" fill="#1a1a1a">az</text>
<text transform="translate(225.22,188) rotate(-90)" font-family="'Liberation Serif', 'Times New Roman', serif" font-size="6.8" text-anchor="middle" fill="#1a1a1a">wx</text>
<text transform="translate(233.14,188) rotate(-90)" font-family="'Liberation Serif', 'Times New Roman', serif" font-size="6.8" text-anchor="middle" fill="#1a1a1a">wy</text>
<text transform="translate(241.06,188) rotate(-90)" font-family="'Liberation Serif', 'Times New Roman', serif" font-size="6.8" text-anchor="middle" fill="#1a1a1a">wz</text>
<text transform="translate(248.98,188) rotate(-90)" font-family="'Liberation Serif', 'Times New Roman', serif" font-size="6.8" text-anchor="middle" fill="#1a1a1a">α d</text>
<text transform="translate(256.9,188) rotate(-90)" font-family="'Liberation Serif', 'Times New Roman', serif" font-size="6.8" text-anchor="middle" fill="#1a1a1a">β d</text>
</g>
<g transform="translate(0,188.2)">
<clipPath id="clipc"><rect x="52" y="19.8" width="217.2" height="161.5"/></clipPath>
<g clip-path="url(#clipc)">
<line x1="66.6" y1="17.8" x2="66.6" y2="101.04" stroke="#dcdcdc" stroke-width="0.8"/>
<line x1="66.6" y1="135.28" x2="66.6" y2="172.08" stroke="#dcdcdc" stroke-width="0.8"/>
<line x1="65.1" y1="172.08" x2="68.1" y2="172.08" stroke="#dcdcdc" stroke-width="0.8"/>
<rect x="64.05" y="101.04" width="5.1" height="34.24" fill="#d0d0d0" stroke="#b4b4b4" stroke-width="0.7"/>
<line x1="64.05" y1="117.36" x2="69.15" y2="117.36" stroke="#b4b4b4" stroke-width="0.6"/>
<line x1="74.52" y1="17.8" x2="74.52" y2="115.76" stroke="#ffc8cc" stroke-width="0.8"/>
<line x1="74.52" y1="146.16" x2="74.52" y2="183.3" stroke="#ffc8cc" stroke-width="0.8"/>
<rect x="71.97" y="115.76" width="5.1" height="30.4" fill="#ffbcbc" stroke="#ff9c9c" stroke-width="0.7"/>
<line x1="71.97" y1="129.84" x2="77.07" y2="129.84" stroke="#ff9c9c" stroke-width="0.6"/>
<line x1="82.44" y1="39.92" x2="82.44" y2="71.6" stroke="#a6c8f6" stroke-width="0.8"/>
<line x1="82.44" y1="132.4" x2="82.44" y2="174.32" stroke="#a6c8f6" stroke-width="0.8"/>
<line x1="80.94" y1="39.92" x2="83.94" y2="39.92" stroke="#a6c8f6" stroke-width="0.8"/>
<line x1="80.94" y1="174.32" x2="83.94" y2="174.32" stroke="#a6c8f6" stroke-width="0.8"/>
<rect x="79.89" y="71.6" width="5.1" height="60.8" fill="#8fbdf3" stroke="#6ea6ee" stroke-width="0.7"/>
<line x1="79.89" y1="90.8" x2="84.99" y2="90.8" stroke="#6ea6ee" stroke-width="0.6"/>
<line x1="90.36" y1="17.8" x2="90.36" y2="69.04" stroke="#bfe8d6" stroke-width="0.8"/>
<line x1="90.36" y1="129.52" x2="90.36" y2="183.3" stroke="#bfe8d6" stroke-width="0.8"/>
<rect x="87.81" y="69.04" width="5.1" height="60.48" fill="#a4dcc2" stroke="#76c8a2" stroke-width="0.7"/>
<line x1="87.81" y1="98.8" x2="92.91" y2="98.8" stroke="#76c8a2" stroke-width="0.6"/>
<line x1="98.28" y1="17.8" x2="98.28" y2="74.16" stroke="#e8d8fa" stroke-width="0.8"/>
<line x1="98.28" y1="131.12" x2="98.28" y2="183.3" stroke="#e8d8fa" stroke-width="0.8"/>
<rect x="95.73" y="74.16" width="5.1" height="56.96" fill="#e2c8f8" stroke="#c8a6f0" stroke-width="0.7"/>
<line x1="95.73" y1="102" x2="100.83" y2="102" stroke="#c8a6f0" stroke-width="0.6"/>
<line x1="106.2" y1="17.8" x2="106.2" y2="77.04" stroke="#f6e2bc" stroke-width="0.8"/>
<line x1="106.2" y1="157.36" x2="106.2" y2="183.3" stroke="#f6e2bc" stroke-width="0.8"/>
<rect x="103.65" y="77.04" width="5.1" height="80.32" fill="#f2d69e" stroke="#e8c070" stroke-width="0.7"/>
<line x1="103.65" y1="106.16" x2="108.75" y2="106.16" stroke="#e8c070" stroke-width="0.6"/>
<line x1="114.12" y1="17.8" x2="114.12" y2="77.04" stroke="#a8eeee" stroke-width="0.8"/>
<line x1="114.12" y1="117.36" x2="114.12" y2="183.3" stroke="#a8eeee" stroke-width="0.8"/>
<rect x="111.57" y="77.04" width="5.1" height="40.32" fill="#76e4e4" stroke="#3cd6d6" stroke-width="0.7"/>
<line x1="111.57" y1="96.88" x2="116.67" y2="96.88" stroke="#3cd6d6" stroke-width="0.6"/>
<line x1="122.04" y1="17.8" x2="122.04" y2="81.84" stroke="#dcc8c8" stroke-width="0.8"/>
<line x1="122.04" y1="116.4" x2="122.04" y2="183.3" stroke="#dcc8c8" stroke-width="0.8"/>
<rect x="119.49" y="81.84" width="5.1" height="34.56" fill="#d4baba" stroke="#bc9a9a" stroke-width="0.7"/>
<line x1="119.49" y1="99.76" x2="124.59" y2="99.76" stroke="#bc9a9a" stroke-width="0.6"/>
<line x1="129.96" y1="17.8" x2="129.96" y2="68.08" stroke="#e0e0b8" stroke-width="0.8"/>
<line x1="129.96" y1="111.28" x2="129.96" y2="183.3" stroke="#e0e0b8" stroke-width="0.8"/>
<rect x="127.41" y="68.08" width="5.1" height="43.2" fill="#d2d29a" stroke="#bcbc70" stroke-width="0.7"/>
<line x1="127.41" y1="89.84" x2="132.51" y2="89.84" stroke="#bcbc70" stroke-width="0.6"/>
<line x1="137.88" y1="17.8" x2="137.88" y2="76.08" stroke="#ffd4b8" stroke-width="0.8"/>
<line x1="137.88" y1="125.04" x2="137.88" y2="183.3" stroke="#ffd4b8" stroke-width="0.8"/>
<rect x="135.33" y="76.08" width="5.1" height="48.96" fill="#ffc29a" stroke="#ffa470" stroke-width="0.7"/>
<line x1="135.33" y1="100.72" x2="140.43" y2="100.72" stroke="#ffa470" stroke-width="0.6"/>
<line x1="145.8" y1="17.8" x2="145.8" y2="94" stroke="#cce2f4" stroke-width="0.8"/>
<line x1="145.8" y1="108.4" x2="145.8" y2="183.3" stroke="#cce2f4" stroke-width="0.8"/>
<rect x="143.25" y="94" width="5.1" height="14.4" fill="#bad8f0" stroke="#96c2e6" stroke-width="0.7"/>
<line x1="143.25" y1="100.72" x2="148.35" y2="100.72" stroke="#96c2e6" stroke-width="0.6"/>
<polyline points="66.6,117.36 74.52,129.84 82.44,97.2 90.36,98.8 98.28,102 106.2,113.52 114.12,96.88 122.04,97.84 129.96,89.84 137.88,100.72 145.8,100.72" fill="none" stroke="#f24848" stroke-width="1.2" stroke-linejoin="round"/>
<circle cx="66.6" cy="117.36" r="0.75" fill="#b4b4b4"/>
<circle cx="74.52" cy="129.84" r="0.75" fill="#ff9c9c"/>
<circle cx="82.44" cy="97.2" r="0.75" fill="#6ea6ee"/>
<circle cx="90.36" cy="98.8" r="0.75" fill="#76c8a2"/>
<circle cx="98.28" cy="102" r="0.75" fill="#c8a6f0"/>
<circle cx="106.2" cy="113.52" r="0.75" fill="#e8c070"/>
<circle cx="114.12" cy="96.88" r="0.75" fill="#3cd6d6"/>
<circle cx="122.04" cy="97.84" r="0.75" fill="#bc9a9a"/>
<circle cx="129.96" cy="89.84" r="0.75" fill="#bcbc70"/>
<circle cx="137.88" cy="100.72" r="0.75" fill="#ffa470"/>
<circle cx="145.8" cy="100.72" r="0.75" fill="#96c2e6"/>
<line x1="175.4" y1="17.8" x2="175.4" y2="118.96" stroke="#dcdcdc" stroke-width="0.8"/>
<line x1="175.4" y1="147.76" x2="175.4" y2="183.3" stroke="#dcdcdc" stroke-width="0.8"/>
<rect x="172.85" y="118.96" width="5.1" height="28.8" fill="#d0d0d0" stroke="#b4b4b4" stroke-width="0.7"/>
<line x1="172.85" y1="132.72" x2="177.95" y2="132.72" stroke="#b4b4b4" stroke-width="0.6"/>
<line x1="183.32" y1="17.8" x2="183.32" y2="123.76" stroke="#ffc8cc" stroke-width="0.8"/>
<line x1="183.32" y1="144.56" x2="183.32" y2="183.3" stroke="#ffc8cc" stroke-width="0.8"/>
<rect x="180.77" y="123.76" width="5.1" height="20.8" fill="#ffbcbc" stroke="#ff9c9c" stroke-width="0.7"/>
<line x1="180.77" y1="134" x2="185.87" y2="134" stroke="#ff9c9c" stroke-width="0.6"/>
<line x1="191.24" y1="51.44" x2="191.24" y2="80.88" stroke="#a6c8f6" stroke-width="0.8"/>
<line x1="191.24" y1="123.12" x2="191.24" y2="183.3" stroke="#a6c8f6" stroke-width="0.8"/>
<line x1="189.74" y1="51.44" x2="192.74" y2="51.44" stroke="#a6c8f6" stroke-width="0.8"/>
<rect x="188.69" y="80.88" width="5.1" height="42.24" fill="#8fbdf3" stroke="#6ea6ee" stroke-width="0.7"/>
<line x1="188.69" y1="94.64" x2="193.79" y2="94.64" stroke="#6ea6ee" stroke-width="0.6"/>
<line x1="199.16" y1="17.8" x2="199.16" y2="99.76" stroke="#bfe8d6" stroke-width="0.8"/>
<line x1="199.16" y1="138.8" x2="199.16" y2="183.3" stroke="#bfe8d6" stroke-width="0.8"/>
<rect x="196.61" y="99.76" width="5.1" height="39.04" fill="#a4dcc2" stroke="#76c8a2" stroke-width="0.7"/>
<line x1="196.61" y1="117.36" x2="201.71" y2="117.36" stroke="#76c8a2" stroke-width="0.6"/>
<line x1="207.08" y1="17.8" x2="207.08" y2="62" stroke="#e8d8fa" stroke-width="0.8"/>
<line x1="207.08" y1="102.96" x2="207.08" y2="183.3" stroke="#e8d8fa" stroke-width="0.8"/>
<rect x="204.53" y="62" width="5.1" height="40.96" fill="#e2c8f8" stroke="#c8a6f0" stroke-width="0.7"/>
<line x1="204.53" y1="86" x2="209.63" y2="86" stroke="#c8a6f0" stroke-width="0.6"/>
<line x1="215" y1="17.8" x2="215" y2="86.96" stroke="#f6e2bc" stroke-width="0.8"/>
<line x1="215" y1="139.44" x2="215" y2="183.3" stroke="#f6e2bc" stroke-width="0.8"/>
<rect x="212.45" y="86.96" width="5.1" height="52.48" fill="#f2d69e" stroke="#e8c070" stroke-width="0.7"/>
<line x1="212.45" y1="112.56" x2="217.55" y2="112.56" stroke="#e8c070" stroke-width="0.6"/>
<line x1="222.92" y1="17.8" x2="222.92" y2="78" stroke="#a8eeee" stroke-width="0.8"/>
<line x1="222.92" y1="124.4" x2="222.92" y2="183.3" stroke="#a8eeee" stroke-width="0.8"/>
<rect x="220.37" y="78" width="5.1" height="46.4" fill="#76e4e4" stroke="#3cd6d6" stroke-width="0.7"/>
<line x1="220.37" y1="95.6" x2="225.47" y2="95.6" stroke="#3cd6d6" stroke-width="0.6"/>
<line x1="230.84" y1="40.56" x2="230.84" y2="85.04" stroke="#dcc8c8" stroke-width="0.8"/>
<line x1="230.84" y1="116.4" x2="230.84" y2="183.3" stroke="#dcc8c8" stroke-width="0.8"/>
<line x1="229.34" y1="40.56" x2="232.34" y2="40.56" stroke="#dcc8c8" stroke-width="0.8"/>
<rect x="228.29" y="85.04" width="5.1" height="31.36" fill="#d4baba" stroke="#bc9a9a" stroke-width="0.7"/>
<line x1="228.29" y1="97.84" x2="233.39" y2="97.84" stroke="#bc9a9a" stroke-width="0.6"/>
<line x1="238.76" y1="17.8" x2="238.76" y2="55.6" stroke="#e0e0b8" stroke-width="0.8"/>
<line x1="238.76" y1="106.48" x2="238.76" y2="183.3" stroke="#e0e0b8" stroke-width="0.8"/>
<rect x="236.21" y="55.6" width="5.1" height="50.88" fill="#d2d29a" stroke="#bcbc70" stroke-width="0.7"/>
<line x1="236.21" y1="81.52" x2="241.31" y2="81.52" stroke="#bcbc70" stroke-width="0.6"/>
<line x1="246.68" y1="17.8" x2="246.68" y2="68.4" stroke="#ffd4b8" stroke-width="0.8"/>
<line x1="246.68" y1="113.2" x2="246.68" y2="183.3" stroke="#ffd4b8" stroke-width="0.8"/>
<rect x="244.13" y="68.4" width="5.1" height="44.8" fill="#ffc29a" stroke="#ffa470" stroke-width="0.7"/>
<line x1="244.13" y1="90.48" x2="249.23" y2="90.48" stroke="#ffa470" stroke-width="0.6"/>
<line x1="254.6" y1="17.8" x2="254.6" y2="84.08" stroke="#cce2f4" stroke-width="0.8"/>
<line x1="254.6" y1="115.12" x2="254.6" y2="183.3" stroke="#cce2f4" stroke-width="0.8"/>
<rect x="252.05" y="84.08" width="5.1" height="31.04" fill="#bad8f0" stroke="#96c2e6" stroke-width="0.7"/>
<line x1="252.05" y1="95.92" x2="257.15" y2="95.92" stroke="#96c2e6" stroke-width="0.6"/>
<polyline points="175.4,132.72 183.32,134 191.24,105.52 199.16,117.36 207.08,86 215,104.24 222.92,102 230.84,103.28 238.76,81.52 246.68,90.48 254.6,103.28" fill="none" stroke="#f24848" stroke-width="1.2" stroke-linejoin="round"/>
<circle cx="175.4" cy="132.72" r="0.75" fill="#b4b4b4"/>
<circle cx="183.32" cy="134" r="0.75" fill="#ff9c9c"/>
<circle cx="191.24" cy="105.52" r="0.75" fill="#6ea6ee"/>
<circle cx="199.16" cy="117.36" r="0.75" fill="#76c8a2"/>
<circle cx="207.08" cy="86" r="0.75" fill="#c8a6f0"/>
<circle cx="215" cy="104.24" r="0.75" fill="#e8c070"/>
<circle cx="222.92" cy="102" r="0.75" fill="#3cd6d6"/>
<circle cx="230.84" cy="103.28" r="0.75" fill="#bc9a9a"/>
<circle cx="238.76" cy="81.52" r="0.75" fill="#bcbc70"/>
<circle cx="246.68" cy="90.48" r="0.75" fill="#ffa470"/>
<circle cx="254.6" cy="103.28" r="0.75" fill="#96c2e6"/>
</g>
<clipPath id="lcc"><rect x="175.5" y="19.8" width="92.1" height="18.2"/></clipPath>
<rect x="175.5" y="19.8" width="92.1" height="18.2" fill="#fff" stroke="#8a8a8a" stroke-width="0.8"/>
<g clip-path="url(#lcc)" font-family="'Liberation Serif', 'Times New Roman', serif" font-size="6.4" fill="#000">
<rect x="176.2" y="22.4" width="13.8" height="6.4" fill="#cbcbcb"/>
<line x1="178" y1="33.5" x2="190" y2="33.5" stroke="#c8c8c8" stroke-width="0.6"/>
<text x="191.8" y="27.9">25%~75%</text>
<text x="191.8" y="35.6">Median Line</text>
<line x1="232.7" y1="22.3" x2="232.7" y2="28.9" stroke="#c4c4c4" stroke-width="0.7"/>
<line x1="231.2" y1="22.3" x2="234.2" y2="22.3" stroke="#b4b4b4" stroke-width="0.7"/>
<line x1="230.6" y1="28.9" x2="234.8" y2="28.9" stroke="#b4b4b4" stroke-width="0.8"/>
<circle cx="232.7" cy="33.6" r="1.0" fill="#b8b8b8"/>
<text x="241.6" y="27.8">Min~Max</text>
<text x="241.6" y="35.6">Mean</text>
</g>
<rect x="52" y="7.3" width="217.2" height="12.5" fill="none" stroke="#787878" stroke-width="1.7"/>
<line x1="160.6" y1="7.3" x2="160.6" y2="19.8" stroke="#333" stroke-width="1.2"/>
<text x="106.3" y="16.1" font-family="'Liberation Serif', 'Times New Roman', serif" font-size="7.8" text-anchor="middle" fill="#111">Foot</text>
<text x="214.9" y="16.1" font-family="'Liberation Serif', 'Times New Roman', serif" font-size="7.8" text-anchor="middle" fill="#111">Shank</text>
<line x1="52" y1="19.8" x2="52" y2="181.9" stroke="#787878" stroke-width="1.7"/>
<line x1="269.2" y1="19.8" x2="269.2" y2="181.9" stroke="#787878" stroke-width="1.3"/>
<line x1="49" y1="36.4" x2="52" y2="36.4" stroke="#787878" stroke-width="1.1"/>
<text x="47.3" y="38.75" font-family="'Liberation Serif', 'Times New Roman', serif" font-size="6.9" text-anchor="end" fill="#111">2</text>
<line x1="49" y1="68.4" x2="52" y2="68.4" stroke="#787878" stroke-width="1.1"/>
<text x="47.3" y="70.75" font-family="'Liberation Serif', 'Times New Roman', serif" font-size="6.9" text-anchor="end" fill="#111">1</text>
<line x1="49" y1="100.4" x2="52" y2="100.4" stroke="#787878" stroke-width="1.1"/>
<text x="47.3" y="102.75" font-family="'Liberation Serif', 'Times New Roman', serif" font-size="6.9" text-anchor="end" fill="#111">0</text>
<line x1="49" y1="132.4" x2="52" y2="132.4" stroke="#787878" stroke-width="1.1"/>
<text x="47.3" y="134.75" font-family="'Liberation Serif', 'Times New Roman', serif" font-size="6.9" text-anchor="end" fill="#111">-1</text>
<line x1="49" y1="164.4" x2="52" y2="164.4" stroke="#787878" stroke-width="1.1"/>
<text x="47.3" y="166.75" font-family="'Liberation Serif', 'Times New Roman', serif" font-size="6.9" text-anchor="end" fill="#111">-2</text>
<line x1="50.3" y1="20.4" x2="52" y2="20.4" stroke="#787878" stroke-width="0.8"/>
<line x1="50.3" y1="52.4" x2="52" y2="52.4" stroke="#787878" stroke-width="0.8"/>
<line x1="50.3" y1="84.4" x2="52" y2="84.4" stroke="#787878" stroke-width="0.8"/>
<line x1="50.3" y1="116.4" x2="52" y2="116.4" stroke="#787878" stroke-width="0.8"/>
<line x1="50.3" y1="148.4" x2="52" y2="148.4" stroke="#787878" stroke-width="0.8"/>
<line x1="50.3" y1="180.4" x2="52" y2="180.4" stroke="#787878" stroke-width="0.8"/>
<text transform="translate(39,100.3) rotate(-90)" font-family="'Liberation Serif', 'Times New Roman', serif" font-size="7.6" text-anchor="middle" fill="#111">Range</text>
<rect x="62.64" y="181.4" width="87.12" height="13.2" fill="#fff" stroke="#5a5a5a" stroke-width="1.1"/>
<line x1="70.56" y1="181.4" x2="70.56" y2="194.6" stroke="#5a5a5a" stroke-width="1"/>
<line x1="78.48" y1="181.4" x2="78.48" y2="194.6" stroke="#5a5a5a" stroke-width="1"/>
<line x1="86.4" y1="181.4" x2="86.4" y2="194.6" stroke="#5a5a5a" stroke-width="1"/>
<line x1="94.32" y1="181.4" x2="94.32" y2="194.6" stroke="#5a5a5a" stroke-width="1"/>
<line x1="102.24" y1="181.4" x2="102.24" y2="194.6" stroke="#5a5a5a" stroke-width="1"/>
<line x1="110.16" y1="181.4" x2="110.16" y2="194.6" stroke="#5a5a5a" stroke-width="1"/>
<line x1="118.08" y1="181.4" x2="118.08" y2="194.6" stroke="#5a5a5a" stroke-width="1"/>
<line x1="126" y1="181.4" x2="126" y2="194.6" stroke="#5a5a5a" stroke-width="1"/>
<line x1="133.92" y1="181.4" x2="133.92" y2="194.6" stroke="#5a5a5a" stroke-width="1"/>
<line x1="141.84" y1="181.4" x2="141.84" y2="194.6" stroke="#5a5a5a" stroke-width="1"/>
<text transform="translate(68.9,188) rotate(-90)" font-family="'Liberation Serif', 'Times New Roman', serif" font-size="6.8" text-anchor="middle" fill="#1a1a1a">α</text>
<text transform="translate(76.82,188) rotate(-90)" font-family="'Liberation Serif', 'Times New Roman', serif" font-size="6.8" text-anchor="middle" fill="#1a1a1a">β</text>
<text transform="translate(84.74,188) rotate(-90)" font-family="'Liberation Serif', 'Times New Roman', serif" font-size="6.8" text-anchor="middle" fill="#1a1a1a">γ</text>
<text transform="translate(92.66,188) rotate(-90)" font-family="'Liberation Serif', 'Times New Roman', serif" font-size="6.8" text-anchor="middle" fill="#1a1a1a">ax</text>
<text transform="translate(100.58,188) rotate(-90)" font-family="'Liberation Serif', 'Times New Roman', serif" font-size="6.8" text-anchor="middle" fill="#1a1a1a">ay</text>
<text transform="translate(108.5,188) rotate(-90)" font-family="'Liberation Serif', 'Times New Roman', serif" font-size="6.8" text-anchor="middle" fill="#1a1a1a">az</text>
<text transform="translate(116.42,188) rotate(-90)" font-family="'Liberation Serif', 'Times New Roman', serif" font-size="6.8" text-anchor="middle" fill="#1a1a1a">wx</text>
<text transform="translate(124.34,188) rotate(-90)" font-family="'Liberation Serif', 'Times New Roman', serif" font-size="6.8" text-anchor="middle" fill="#1a1a1a">wy</text>
<text transform="translate(132.26,188) rotate(-90)" font-family="'Liberation Serif', 'Times New Roman', serif" font-size="6.8" text-anchor="middle" fill="#1a1a1a">wz</text>
<text transform="translate(140.18,188) rotate(-90)" font-family="'Liberation Serif', 'Times New Roman', serif" font-size="6.8" text-anchor="middle" fill="#1a1a1a">α d</text>
<text transform="translate(148.1,188) rotate(-90)" font-family="'Liberation Serif', 'Times New Roman', serif" font-size="6.8" text-anchor="middle" fill="#1a1a1a">β d</text>
<rect x="171.44" y="181.4" width="87.12" height="13.2" fill="#fff" stroke="#5a5a5a" stroke-width="1.1"/>
<line x1="179.36" y1="181.4" x2="179.36" y2="194.6" stroke="#5a5a5a" stroke-width="1"/>
<line x1="187.28" y1="181.4" x2="187.28" y2="194.6" stroke="#5a5a5a" stroke-width="1"/>
<line x1="195.2" y1="181.4" x2="195.2" y2="194.6" stroke="#5a5a5a" stroke-width="1"/>
<line x1="203.12" y1="181.4" x2="203.12" y2="194.6" stroke="#5a5a5a" stroke-width="1"/>
<line x1="211.04" y1="181.4" x2="211.04" y2="194.6" stroke="#5a5a5a" stroke-width="1"/>
<line x1="218.96" y1="181.4" x2="218.96" y2="194.6" stroke="#5a5a5a" stroke-width="1"/>
<line x1="226.88" y1="181.4" x2="226.88" y2="194.6" stroke="#5a5a5a" stroke-width="1"/>
<line x1="234.8" y1="181.4" x2="234.8" y2="194.6" stroke="#5a5a5a" stroke-width="1"/>
<line x1="242.72" y1="181.4" x2="242.72" y2="194.6" stroke="#5a5a5a" stroke-width="1"/>
<line x1="250.64" y1="181.4" x2="250.64" y2="194.6" stroke="#5a5a5a" stroke-width="1"/>
<text transform="translate(177.7,188) rotate(-90)" font-family="'Liberation Serif', 'Times New Roman', serif" font-size="6.8" text-anchor="middle" fill="#1a1a1a">α</text>
<text transform="translate(185.62,188) rotate(-90)" font-family="'Liberation Serif', 'Times New Roman', serif" font-size="6.8" text-anchor="middle" fill="#1a1a1a">β</text>
<text transform="translate(193.54,188) rotate(-90)" font-family="'Liberation Serif', 'Times New Roman', serif" font-size="6.8" text-anchor="middle" fill="#1a1a1a">γ</text>
<text transform="translate(201.46,188) rotate(-90)" font-family="'Liberation Serif', 'Times New Roman', serif" font-size="6.8" text-anchor="middle" fill="#1a1a1a">ax</text>
<text transform="translate(209.38,188) rotate(-90)" font-family="'Liberation Serif', 'Times New Roman', serif" font-size="6.8" text-anchor="middle" fill="#1a1a1a">ay</text>
<text transform="translate(217.3,188) rotate(-90)" font-family="'Liberation Serif', 'Times New Roman', serif" font-size="6.8" text-anchor="middle" fill="#1a1a1a">az</text>
<text transform="translate(225.22,188) rotate(-90)" font-family="'Liberation Serif', 'Times New Roman', serif" font-size="6.8" text-anchor="middle" fill="#1a1a1a">wx</text>
<text transform="translate(233.14,188) rotate(-90)" font-family="'Liberation Serif', 'Times New Roman', serif" font-size="6.8" text-anchor="middle" fill="#1a1a1a">wy</text>
<text transform="translate(241.06,188) rotate(-90)" font-family="'Liberation Serif', 'Times New Roman', serif" font-size="6.8" text-anchor="middle" fill="#1a1a1a">wz</text>
<text transform="translate(248.98,188) rotate(-90)" font-family="'Liberation Serif', 'Times New Roman', serif" font-size="6.8" text-anchor="middle" fill="#1a1a1a">α d</text>
<text transform="translate(256.9,188) rotate(-90)" font-family="'Liberation Serif', 'Times New Roman', serif" font-size="6.8" text-anchor="middle" fill="#1a1a1a">β d</text>
</g>
<g transform="translate(255.5,188.2)">
<clipPath id="clipd"><rect x="52" y="19.8" width="217.2" height="161.5"/></clipPath>
<g clip-path="url(#clipd)">
<line x1="66.6" y1="17.8" x2="66.6" y2="35.44" stroke="#dcdcdc" stroke-width="0.8"/>
<line x1="66.6" y1="102" x2="66.6" y2="168.88" stroke="#dcdcdc" stroke-width="0.8"/>
<line x1="65.1" y1="168.88" x2="68.1" y2="168.88" stroke="#dcdcdc" stroke-width="0.8"/>
<rect x="64.05" y="35.44" width="5.1" height="66.56" fill="#d0d0d0" stroke="#b4b4b4" stroke-width="0.7"/>
<line x1="64.05" y1="77.36" x2="69.15" y2="77.36" stroke="#b4b4b4" stroke-width="0.6"/>
<line x1="74.52" y1="17.8" x2="74.52" y2="36.4" stroke="#ffc8cc" stroke-width="0.8"/>
<line x1="74.52" y1="91.44" x2="74.52" y2="179.12" stroke="#ffc8cc" stroke-width="0.8"/>
<line x1="73.02" y1="179.12" x2="76.02" y2="179.12" stroke="#ffc8cc" stroke-width="0.8"/>
<rect x="71.97" y="36.4" width="5.1" height="55.04" fill="#ffbcbc" stroke="#ff9c9c" stroke-width="0.7"/>
<line x1="71.97" y1="63.92" x2="77.07" y2="63.92" stroke="#ff9c9c" stroke-width="0.6"/>
<line x1="82.44" y1="41.2" x2="82.44" y2="74.8" stroke="#a6c8f6" stroke-width="0.8"/>
<line x1="82.44" y1="133.36" x2="82.44" y2="172.08" stroke="#a6c8f6" stroke-width="0.8"/>
<line x1="80.94" y1="41.2" x2="83.94" y2="41.2" stroke="#a6c8f6" stroke-width="0.8"/>
<line x1="80.94" y1="172.08" x2="83.94" y2="172.08" stroke="#a6c8f6" stroke-width="0.8"/>
<rect x="79.89" y="74.8" width="5.1" height="58.56" fill="#8fbdf3" stroke="#6ea6ee" stroke-width="0.7"/>
<line x1="79.89" y1="92.4" x2="84.99" y2="92.4" stroke="#6ea6ee" stroke-width="0.6"/>
<line x1="90.36" y1="17.8" x2="90.36" y2="86" stroke="#bfe8d6" stroke-width="0.8"/>
<line x1="90.36" y1="115.76" x2="90.36" y2="183.3" stroke="#bfe8d6" stroke-width="0.8"/>
<rect x="87.81" y="86" width="5.1" height="29.76" fill="#a4dcc2" stroke="#76c8a2" stroke-width="0.7"/>
<line x1="87.81" y1="101.36" x2="92.91" y2="101.36" stroke="#76c8a2" stroke-width="0.6"/>
<line x1="98.28" y1="17.8" x2="98.28" y2="80.56" stroke="#e8d8fa" stroke-width="0.8"/>
<line x1="98.28" y1="117.36" x2="98.28" y2="183.3" stroke="#e8d8fa" stroke-width="0.8"/>
<rect x="95.73" y="80.56" width="5.1" height="36.8" fill="#e2c8f8" stroke="#c8a6f0" stroke-width="0.7"/>
<line x1="95.73" y1="98.8" x2="100.83" y2="98.8" stroke="#c8a6f0" stroke-width="0.6"/>
<line x1="106.2" y1="17.8" x2="106.2" y2="75.44" stroke="#f6e2bc" stroke-width="0.8"/>
<line x1="106.2" y1="120.24" x2="106.2" y2="183.3" stroke="#f6e2bc" stroke-width="0.8"/>
<rect x="103.65" y="75.44" width="5.1" height="44.8" fill="#f2d69e" stroke="#e8c070" stroke-width="0.7"/>
<line x1="103.65" y1="97.84" x2="108.75" y2="97.84" stroke="#e8c070" stroke-width="0.6"/>
<line x1="114.12" y1="17.8" x2="114.12" y2="74.16" stroke="#a8eeee" stroke-width="0.8"/>
<line x1="114.12" y1="136.24" x2="114.12" y2="183.3" stroke="#a8eeee" stroke-width="0.8"/>
<rect x="111.57" y="74.16" width="5.1" height="62.08" fill="#76e4e4" stroke="#3cd6d6" stroke-width="0.7"/>
<line x1="111.57" y1="106.8" x2="116.67" y2="106.8" stroke="#3cd6d6" stroke-width="0.6"/>
<line x1="122.04" y1="17.8" x2="122.04" y2="60.72" stroke="#dcc8c8" stroke-width="0.8"/>
<line x1="122.04" y1="147.44" x2="122.04" y2="183.3" stroke="#dcc8c8" stroke-width="0.8"/>
<rect x="119.49" y="60.72" width="5.1" height="86.72" fill="#d4baba" stroke="#bc9a9a" stroke-width="0.7"/>
<line x1="119.49" y1="106.8" x2="124.59" y2="106.8" stroke="#bc9a9a" stroke-width="0.6"/>
<line x1="129.96" y1="17.8" x2="129.96" y2="75.76" stroke="#e0e0b8" stroke-width="0.8"/>
<line x1="129.96" y1="127.28" x2="129.96" y2="183.3" stroke="#e0e0b8" stroke-width="0.8"/>
<rect x="127.41" y="75.76" width="5.1" height="51.52" fill="#d2d29a" stroke="#bcbc70" stroke-width="0.7"/>
<line x1="127.41" y1="101.68" x2="132.51" y2="101.68" stroke="#bcbc70" stroke-width="0.6"/>
<line x1="137.88" y1="17.8" x2="137.88" y2="76.72" stroke="#ffd4b8" stroke-width="0.8"/>
<line x1="137.88" y1="125.04" x2="137.88" y2="183.3" stroke="#ffd4b8" stroke-width="0.8"/>
<rect x="135.33" y="76.72" width="5.1" height="48.32" fill="#ffc29a" stroke="#ffa470" stroke-width="0.7"/>
<line x1="135.33" y1="100.72" x2="140.43" y2="100.72" stroke="#ffa470" stroke-width="0.6"/>
<line x1="145.8" y1="66.48" x2="145.8" y2="97.84" stroke="#cce2f4" stroke-width="0.8"/>
<line x1="145.8" y1="106.8" x2="145.8" y2="124.08" stroke="#cce2f4" stroke-width="0.8"/>
<line x1="144.3" y1="66.48" x2="147.3" y2="66.48" stroke="#cce2f4" stroke-width="0.8"/>
<line x1="144.3" y1="124.08" x2="147.3" y2="124.08" stroke="#cce2f4" stroke-width="0.8"/>
<rect x="143.25" y="97.84" width="5.1" height="8.96" fill="#bad8f0" stroke="#96c2e6" stroke-width="0.7"/>
<line x1="143.25" y1="101.68" x2="148.35" y2="101.68" stroke="#96c2e6" stroke-width="0.6"/>
<polyline points="66.6,68.08 74.52,63.92 82.44,100.72 90.36,101.36 98.28,98.8 106.2,97.84 114.12,106.8 122.04,102.64 129.96,101.68 137.88,100.72 145.8,101.68" fill="none" stroke="#f24848" stroke-width="1.2" stroke-linejoin="round"/>
<circle cx="66.6" cy="68.08" r="0.75" fill="#b4b4b4"/>
<circle cx="74.52" cy="63.92" r="0.75" fill="#ff9c9c"/>
<circle cx="82.44" cy="100.72" r="0.75" fill="#6ea6ee"/>
<circle cx="90.36" cy="101.36" r="0.75" fill="#76c8a2"/>
<circle cx="98.28" cy="98.8" r="0.75" fill="#c8a6f0"/>
<circle cx="106.2" cy="97.84" r="0.75" fill="#e8c070"/>
<circle cx="114.12" cy="106.8" r="0.75" fill="#3cd6d6"/>
<circle cx="122.04" cy="102.64" r="0.75" fill="#bc9a9a"/>
<circle cx="129.96" cy="101.68" r="0.75" fill="#bcbc70"/>
<circle cx="137.88" cy="100.72" r="0.75" fill="#ffa470"/>
<circle cx="145.8" cy="101.68" r="0.75" fill="#96c2e6"/>
<line x1="175.4" y1="17.8" x2="175.4" y2="44.72" stroke="#dcdcdc" stroke-width="0.8"/>
<line x1="175.4" y1="108.72" x2="175.4" y2="183.3" stroke="#dcdcdc" stroke-width="0.8"/>
<rect x="172.85" y="44.72" width="5.1" height="64" fill="#d0d0d0" stroke="#b4b4b4" stroke-width="0.7"/>
<line x1="172.85" y1="77.36" x2="177.95" y2="77.36" stroke="#b4b4b4" stroke-width="0.6"/>
<line x1="183.32" y1="17.8" x2="183.32" y2="40.56" stroke="#ffc8cc" stroke-width="0.8"/>
<line x1="183.32" y1="86.96" x2="183.32" y2="172.08" stroke="#ffc8cc" stroke-width="0.8"/>
<line x1="181.82" y1="172.08" x2="184.82" y2="172.08" stroke="#ffc8cc" stroke-width="0.8"/>
<rect x="180.77" y="40.56" width="5.1" height="46.4" fill="#ffbcbc" stroke="#ff9c9c" stroke-width="0.7"/>
<line x1="180.77" y1="65.52" x2="185.87" y2="65.52" stroke="#ff9c9c" stroke-width="0.6"/>
<line x1="191.24" y1="52.4" x2="191.24" y2="79.28" stroke="#a6c8f6" stroke-width="0.8"/>
<line x1="191.24" y1="125.04" x2="191.24" y2="183.3" stroke="#a6c8f6" stroke-width="0.8"/>
<line x1="189.74" y1="52.4" x2="192.74" y2="52.4" stroke="#a6c8f6" stroke-width="0.8"/>
<rect x="188.69" y="79.28" width="5.1" height="45.76" fill="#8fbdf3" stroke="#6ea6ee" stroke-width="0.7"/>
<line x1="188.69" y1="93.04" x2="193.79" y2="93.04" stroke="#6ea6ee" stroke-width="0.6"/>
<line x1="199.16" y1="17.8" x2="199.16" y2="63.92" stroke="#bfe8d6" stroke-width="0.8"/>
<line x1="199.16" y1="115.76" x2="199.16" y2="178.48" stroke="#bfe8d6" stroke-width="0.8"/>
<line x1="197.66" y1="178.48" x2="200.66" y2="178.48" stroke="#bfe8d6" stroke-width="0.8"/>
<rect x="196.61" y="63.92" width="5.1" height="51.84" fill="#a4dcc2" stroke="#76c8a2" stroke-width="0.7"/>
<line x1="196.61" y1="88.56" x2="201.71" y2="88.56" stroke="#76c8a2" stroke-width="0.6"/>
<line x1="207.08" y1="17.8" x2="207.08" y2="84.08" stroke="#e8d8fa" stroke-width="0.8"/>
<line x1="207.08" y1="134.64" x2="207.08" y2="183.3" stroke="#e8d8fa" stroke-width="0.8"/>
<rect x="204.53" y="84.08" width="5.1" height="50.56" fill="#e2c8f8" stroke="#c8a6f0" stroke-width="0.7"/>
<line x1="204.53" y1="111.28" x2="209.63" y2="111.28" stroke="#c8a6f0" stroke-width="0.6"/>
<line x1="215" y1="17.8" x2="215" y2="86.32" stroke="#f6e2bc" stroke-width="0.8"/>
<line x1="215" y1="117.36" x2="215" y2="183.3" stroke="#f6e2bc" stroke-width="0.8"/>
<rect x="212.45" y="86.32" width="5.1" height="31.04" fill="#f2d69e" stroke="#e8c070" stroke-width="0.7"/>
<line x1="212.45" y1="102" x2="217.55" y2="102" stroke="#e8c070" stroke-width="0.6"/>
<line x1="222.92" y1="45.36" x2="222.92" y2="87.6" stroke="#a8eeee" stroke-width="0.8"/>
<line x1="222.92" y1="154.16" x2="222.92" y2="183.3" stroke="#a8eeee" stroke-width="0.8"/>
<line x1="221.42" y1="45.36" x2="224.42" y2="45.36" stroke="#a8eeee" stroke-width="0.8"/>
<rect x="220.37" y="87.6" width="5.1" height="66.56" fill="#76e4e4" stroke="#3cd6d6" stroke-width="0.7"/>
<line x1="220.37" y1="120.88" x2="225.47" y2="120.88" stroke="#3cd6d6" stroke-width="0.6"/>
<line x1="230.84" y1="17.8" x2="230.84" y2="76.4" stroke="#dcc8c8" stroke-width="0.8"/>
<line x1="230.84" y1="162.48" x2="230.84" y2="183.3" stroke="#dcc8c8" stroke-width="0.8"/>
<rect x="228.29" y="76.4" width="5.1" height="86.08" fill="#d4baba" stroke="#bc9a9a" stroke-width="0.7"/>
<line x1="228.29" y1="121.52" x2="233.39" y2="121.52" stroke="#bc9a9a" stroke-width="0.6"/>
<line x1="238.76" y1="17.8" x2="238.76" y2="83.76" stroke="#e0e0b8" stroke-width="0.8"/>
<line x1="238.76" y1="120.24" x2="238.76" y2="183.3" stroke="#e0e0b8" stroke-width="0.8"/>
<rect x="236.21" y="83.76" width="5.1" height="36.48" fill="#d2d29a" stroke="#bcbc70" stroke-width="0.7"/>
<line x1="236.21" y1="102" x2="241.31" y2="102" stroke="#bcbc70" stroke-width="0.6"/>
<line x1="246.68" y1="17.8" x2="246.68" y2="91.12" stroke="#ffd4b8" stroke-width="0.8"/>
<line x1="246.68" y1="131.44" x2="246.68" y2="183.3" stroke="#ffd4b8" stroke-width="0.8"/>
<rect x="244.13" y="91.12" width="5.1" height="40.32" fill="#ffc29a" stroke="#ffa470" stroke-width="0.7"/>
<line x1="244.13" y1="111.28" x2="249.23" y2="111.28" stroke="#ffa470" stroke-width="0.6"/>
<line x1="254.6" y1="17.8" x2="254.6" y2="75.44" stroke="#cce2f4" stroke-width="0.8"/>
<line x1="254.6" y1="165.68" x2="254.6" y2="183.3" stroke="#cce2f4" stroke-width="0.8"/>
<rect x="252.05" y="75.44" width="5.1" height="90.24" fill="#bad8f0" stroke="#96c2e6" stroke-width="0.7"/>
<line x1="252.05" y1="126" x2="257.15" y2="126" stroke="#96c2e6" stroke-width="0.6"/>
<polyline points="175.4,76.08 183.32,65.52 191.24,102 199.16,90.16 207.08,111.28 215,102 222.92,120.88 230.84,121.52 238.76,104.88 246.68,111.28 254.6,123.44" fill="none" stroke="#f24848" stroke-width="1.2" stroke-linejoin="round"/>
<circle cx="175.4" cy="76.08" r="0.75" fill="#b4b4b4"/>
<circle cx="183.32" cy="65.52" r="0.75" fill="#ff9c9c"/>
<circle cx="191.24" cy="102" r="0.75" fill="#6ea6ee"/>
<circle cx="199.16" cy="90.16" r="0.75" fill="#76c8a2"/>
<circle cx="207.08" cy="111.28" r="0.75" fill="#c8a6f0"/>
<circle cx="215" cy="102" r="0.75" fill="#e8c070"/>
<circle cx="222.92" cy="120.88" r="0.75" fill="#3cd6d6"/>
<circle cx="230.84" cy="121.52" r="0.75" fill="#bc9a9a"/>
<circle cx="238.76" cy="104.88" r="0.75" fill="#bcbc70"/>
<circle cx="246.68" cy="111.28" r="0.75" fill="#ffa470"/>
<circle cx="254.6" cy="123.44" r="0.75" fill="#96c2e6"/>
</g>
<clipPath id="lcd"><rect x="175.5" y="19.8" width="92.1" height="18.2"/></clipPath>
<rect x="175.5" y="19.8" width="92.1" height="18.2" fill="#fff" stroke="#8a8a8a" stroke-width="0.8"/>
<g clip-path="url(#lcd)" font-family="'Liberation Serif', 'Times New Roman', serif" font-size="6.4" fill="#000">
<rect x="176.2" y="22.4" width="13.8" height="6.4" fill="#cbcbcb"/>
<line x1="178" y1="33.5" x2="190" y2="33.5" stroke="#c8c8c8" stroke-width="0.6"/>
<text x="191.8" y="27.9">25%~75%</text>
<text x="191.8" y="35.6">Median Line</text>
<line x1="232.7" y1="22.3" x2="232.7" y2="28.9" stroke="#c4c4c4" stroke-width="0.7"/>
<line x1="231.2" y1="22.3" x2="234.2" y2="22.3" stroke="#b4b4b4" stroke-width="0.7"/>
<line x1="230.6" y1="28.9" x2="234.8" y2="28.9" stroke="#b4b4b4" stroke-width="0.8"/>
<circle cx="232.7" cy="33.6" r="1.0" fill="#b8b8b8"/>
<text x="241.6" y="27.8">Min~Max</text>
<text x="241.6" y="35.6">Mean</text>
</g>
<rect x="52" y="7.3" width="217.2" height="12.5" fill="none" stroke="#787878" stroke-width="1.7"/>
<line x1="160.6" y1="7.3" x2="160.6" y2="19.8" stroke="#333" stroke-width="1.2"/>
<text x="106.3" y="16.1" font-family="'Liberation Serif', 'Times New Roman', serif" font-size="7.8" text-anchor="middle" fill="#111">Foot</text>
<text x="214.9" y="16.1" font-family="'Liberation Serif', 'Times New Roman', serif" font-size="7.8" text-anchor="middle" fill="#111">Shank</text>
<line x1="52" y1="19.8" x2="52" y2="181.9" stroke="#787878" stroke-width="1.7"/>
<line x1="269.2" y1="19.8" x2="269.2" y2="181.9" stroke="#787878" stroke-width="1.3"/>
<line x1="49" y1="36.4" x2="52" y2="36.4" stroke="#787878" stroke-width="1.1"/>
<text x="47.3" y="38.75" font-family="'Liberation Serif', 'Times New Roman', serif" font-size="6.9" text-anchor="end" fill="#111">2</text>
<line x1="49" y1="68.4" x2="52" y2="68.4" stroke="#787878" stroke-width="1.1"/>
<text x="47.3" y="70.75" font-family="'Liberation Serif', 'Times New Roman', serif" font-size="6.9" text-anchor="end" fill="#111">1</text>
<line x1="49" y1="100.4" x2="52" y2="100.4" stroke="#787878" stroke-width="1.1"/>
<text x="47.3" y="102.75" font-family="'Liberation Serif', 'Times New Roman', serif" font-size="6.9" text-anchor="end" fill="#111">0</text>
<line x1="49" y1="132.4" x2="52" y2="132.4" stroke="#787878" stroke-width="1.1"/>
<text x="47.3" y="134.75" font-family="'Liberation Serif', 'Times New Roman', serif" font-size="6.9" text-anchor="end" fill="#111">-1</text>
<line x1="49" y1="164.4" x2="52" y2="164.4" stroke="#787878" stroke-width="1.1"/>
<text x="47.3" y="166.75" font-family="'Liberation Serif', 'Times New Roman', serif" font-size="6.9" text-anchor="end" fill="#111">-2</text>
<line x1="50.3" y1="20.4" x2="52" y2="20.4" stroke="#787878" stroke-width="0.8"/>
<line x1="50.3" y1="52.4" x2="52" y2="52.4" stroke="#787878" stroke-width="0.8"/>
<line x1="50.3" y1="84.4" x2="52" y2="84.4" stroke="#787878" stroke-width="0.8"/>
<line x1="50.3" y1="116.4" x2="52" y2="116.4" stroke="#787878" stroke-width="0.8"/>
<line x1="50.3" y1="148.4" x2="52" y2="148.4" stroke="#787878" stroke-width="0.8"/>
<line x1="50.3" y1="180.4" x2="52" y2="180.4" stroke="#787878" stroke-width="0.8"/>
<text transform="translate(39,100.3) rotate(-90)" font-family="'Liberation Serif', 'Times New Roman', serif" font-size="7.6" text-anchor="middle" fill="#111">Range</text>
<rect x="62.64" y="181.4" width="87.12" height="13.2" fill="#fff" stroke="#5a5a5a" stroke-width="1.1"/>
<line x1="70.56" y1="181.4" x2="70.56" y2="194.6" stroke="#5a5a5a" stroke-width="1"/>
<line x1="78.48" y1="181.4" x2="78.48" y2="194.6" stroke="#5a5a5a" stroke-width="1"/>
<line x1="86.4" y1="181.4" x2="86.4" y2="194.6" stroke="#5a5a5a" stroke-width="1"/>
<line x1="94.32" y1="181.4" x2="94.32" y2="194.6" stroke="#5a5a5a" stroke-width="1"/>
<line x1="102.24" y1="181.4" x2="102.24" y2="194.6" stroke="#5a5a5a" stroke-width="1"/>
<line x1="110.16" y1="181.4" x2="110.16" y2="194.6" stroke="#5a5a5a" stroke-width="1"/>
<line x1="118.08" y1="181.4" x2="118.08" y2="194.6" stroke="#5a5a5a" stroke-width="1"/>
<line x1="126" y1="181.4" x2="126" y2="194.6" stroke="#5a5a5a" stroke-width="1"/>
<line x1="133.92" y1="181.4" x2="133.92" y2="194.6" stroke="#5a5a5a" stroke-width="1"/>
<line x1="141.84" y1="181.4" x2="141.84" y2="194.6" stroke="#5a5a5a" stroke-width="1"/>
<text transform="translate(68.9,188) rotate(-90)" font-family="'Liberation Serif', 'Times New Roman', serif" font-size="6.8" text-anchor="middle" fill="#1a1a1a">α</text>
<text transform="translate(76.82,188) rotate(-90)" font-family="'Liberation Serif', 'Times New Roman', serif" font-size="6.8" text-anchor="middle" fill="#1a1a1a">β</text>
<text transform="translate(84.74,188) rotate(-90)" font-family="'Liberation Serif', 'Times New Roman', serif" font-size="6.8" text-anchor="middle" fill="#1a1a1a">γ</text>
<text transform="translate(92.66,188) rotate(-90)" font-family="'Liberation Serif', 'Times New Roman', serif" font-size="6.8" text-anchor="middle" fill="#1a1a1a">ax</text>
<text transform="translate(100.58,188) rotate(-90)" font-family="'Liberation Serif', 'Times New Roman', serif" font-size="6.8" text-anchor="middle" fill="#1a1a1a">ay</text>
<text transform="translate(108.5,188) rotate(-90)" font-family="'Liberation Serif', 'Times New Roman', serif" font-size="6.8" text-anchor="middle" fill="#1a1a1a">az</text>
<text transform="translate(116.42,188) rotate(-90)" font-family="'Liberation Serif', 'Times New Roman', serif" font-size="6.8" text-anchor="middle" fill="#1a1a1a">wx</text>
<text transform="translate(124.34,188) rotate(-90)" font-family="'Liberation Serif', 'Times New Roman', serif" font-size="6.8" text-anchor="middle" fill="#1a1a1a">wy</text>
<text transform="translate(132.26,188) rotate(-90)" font-family="'Liberation Serif', 'Times New Roman', serif" font-size="6.8" text-anchor="middle" fill="#1a1a1a">wz</text>
<text transform="translate(140.18,188) rotate(-90)" font-family="'Liberation Serif', 'Times New Roman', serif" font-size="6.8" text-anchor="middle" fill="#1a1a1a">α d</text>
<text transform="translate(148.1,188) rotate(-90)" font-family="'Liberation Serif', 'Times New Roman', serif" font-size="6.8" text-anchor="middle" fill="#1a1a1a">β d</text>
<rect x="171.44" y="181.4" width="87.12" height="13.2" fill="#fff" stroke="#5a5a5a" stroke-width="1.1"/>
<line x1="179.36" y1="181.4" x2="179.36" y2="194.6" stroke="#5a5a5a" stroke-width="1"/>
<line x1="187.28" y1="181.4" x2="187.28" y2="194.6" stroke="#5a5a5a" stroke-width="1"/>
<line x1="195.2" y1="181.4" x2="195.2" y2="194.6" stroke="#5a5a5a" stroke-width="1"/>
<line x1="203.12" y1="181.4" x2="203.12" y2="194.6" stroke="#5a5a5a" stroke-width="1"/>
<line x1="211.04" y1="181.4" x2="211.04" y2="194.6" stroke="#5a5a5a" stroke-width="1"/>
<line x1="218.96" y1="181.4" x2="218.96" y2="194.6" stroke="#5a5a5a" stroke-width="1"/>
<line x1="226.88" y1="181.4" x2="226.88" y2="194.6" stroke="#5a5a5a" stroke-width="1"/>
<line x1="234.8" y1="181.4" x2="234.8" y2="194.6" stroke="#5a5a5a" stroke-width="1"/>
<line x1="242.72" y1="181.4" x2="242.72" y2="194.6" stroke="#5a5a5a" stroke-width="1"/>
<line x1="250.64" y1="181.4" x2="250.64" y2="194.6" stroke="#5a5a5a" stroke-width="1"/>
<text transform="translate(177.7,188) rotate(-90)" font-family="'Liberation Serif', 'Times New Roman', serif" font-size="6.8" text-anchor="middle" fill="#1a1a1a">α</text>
<text transform="translate(185.62,188) rotate(-90)" font-family="'Liberation Serif', 'Times New Roman', serif" font-size="6.8" text-anchor="middle" fill="#1a1a1a">β</text>
<text transform="translate(193.54,188) rotate(-90)" font-family="'Liberation Serif', 'Times New Roman', serif" font-size="6.8" text-anchor="middle" fill="#1a1a1a">γ</text>
<text transform="translate(201.46,188) rotate(-90)" font-family="'Liberation Serif', 'Times New Roman', serif" font-size="6.8" text-anchor="middle" fill="#1a1a1a">ax</text>
<text transform="translate(209.38,188) rotate(-90)" font-family="'Liberation Serif', 'Times New Roman', serif" font-size="6.8" text-anchor="middle" fill="#1a1a1a">ay</text>
<text transform="translate(217.3,188) rotate(-90)" font-family="'Liberation Serif', 'Times New Roman', serif" font-size="6.8" text-anchor="middle" fill="#1a1a1a">az</text>
<text transform="translate(225.22,188) rotate(-90)" font-family="'Liberation Serif', 'Times New Roman', serif" font-size="6.8" text-anchor="middle" fill="#1a1a1a">wx</text>
<text transform="translate(233.14,188) rotate(-90)" font-family="'Liberation Serif', 'Times New Roman', serif" font-size="6.8" text-anchor="middle" fill="#1a1a1a">wy</text>
<text transform="translate(241.06,188) rotate(-90)" font-family="'Liberation Serif', 'Times New Roman', serif" font-size="6.8" text-anchor="middle" fill="#1a1a1a">wz</text>
<text transform="translate(248.98,188) rotate(-90)" font-family="'Liberation Serif', 'Times New Roman', serif" font-size="6.8" text-anchor="middle" fill="#1a1a1a">α d</text>
<text transform="translate(256.9,188) rotate(-90)" font-family="'Liberation Serif', 'Times New Roman', serif" font-size="6.8" text-anchor="middle" fill="#1a1a1a">β d</text>
</g>
<line x1="52" y1="383.7" x2="269.2" y2="383.7" stroke="#787878" stroke-width="1.5"/>
<line x1="307.5" y1="383.7" x2="524.7" y2="383.7" stroke="#787878" stroke-width="1.5"/>
<text x="4.9" y="104.6" font-family="'Liberation Serif', 'Times New Roman', serif" font-size="10.6" font-weight="bold" fill="#2e2e2e">(a)</text>
<text x="532.6" y="105" font-family="'Liberation Serif', 'Times New Roman', serif" font-size="10.6" font-weight="bold" fill="#2e2e2e">(b)</text>
<text x="5" y="293.3" font-family="'Liberation Serif', 'Times New Roman', serif" font-size="10.6" font-weight="bold" fill="#2e2e2e">(c)</text>
<text x="532.6" y="293.4" font-family="'Liberation Serif', 'Times New Roman', serif" font-size="10.6" font-weight="bold" fill="#2e2e2e">(d)</text>
</svg>
</body></html>
